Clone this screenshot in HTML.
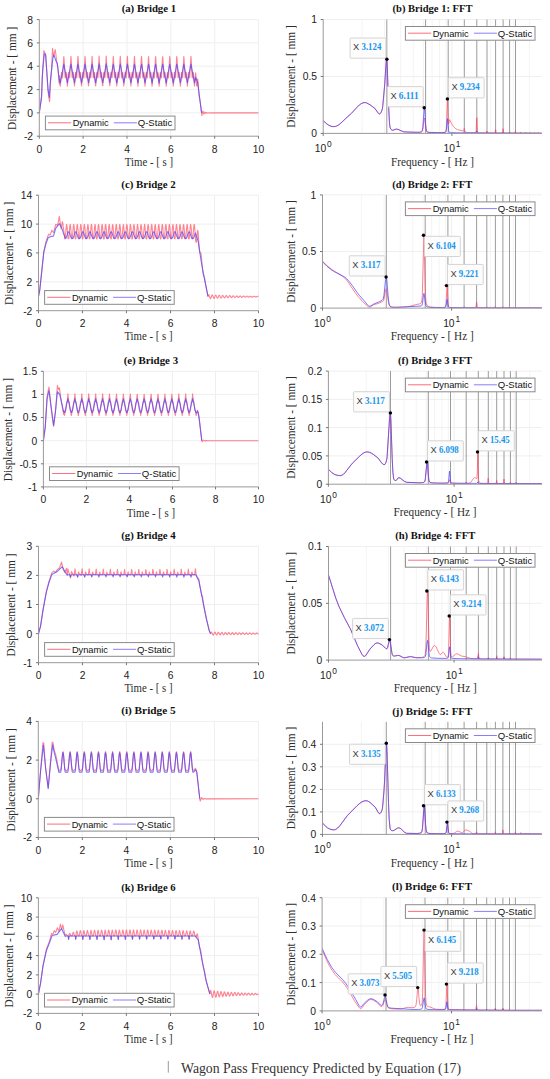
<!DOCTYPE html>
<html><head><meta charset="utf-8"><style>
html,body{margin:0;padding:0;background:#fff;width:550px;height:1079px;overflow:hidden;font-family:"Liberation Sans",sans-serif;}
svg{display:block;}
</style></head><body>
<svg width="550" height="1079" viewBox="0 0 550 1079"><defs><clipPath id="cl0"><rect x="39.3" y="18.6" width="219.7" height="118.6"/></clipPath><clipPath id="cr0"><rect x="323.2" y="18.5" width="218.7" height="115.4"/></clipPath><clipPath id="cl1"><rect x="38.5" y="194.2" width="220.5" height="117.5"/></clipPath><clipPath id="cr1"><rect x="322.5" y="193.9" width="219.39999999999998" height="114.70000000000002"/></clipPath><clipPath id="cl2"><rect x="43.4" y="370.3" width="215.6" height="117.59999999999997"/></clipPath><clipPath id="cr2"><rect x="328.4" y="370.1" width="213.5" height="114.59999999999997"/></clipPath><clipPath id="cl3"><rect x="38.5" y="545.3" width="220.5" height="118.40000000000009"/></clipPath><clipPath id="cr3"><rect x="328.5" y="545.5" width="213.39999999999998" height="115.10000000000002"/></clipPath><clipPath id="cl4"><rect x="38.3" y="720.4" width="220.7" height="118.10000000000002"/></clipPath><clipPath id="cr4"><rect x="322.5" y="720.8" width="219.39999999999998" height="114.10000000000002"/></clipPath><clipPath id="cl5"><rect x="38.4" y="896.8" width="220.6" height="117.60000000000002"/></clipPath><clipPath id="cr5"><rect x="322.1" y="896.7" width="219.79999999999995" height="114.69999999999993"/></clipPath></defs>
<path d="M83.1 19.6V136.2M127.0 19.6V136.2M170.8 19.6V136.2M214.7 19.6V136.2M258.5 19.6V136.2M39.3 112.9H258.5M39.3 89.6H258.5M39.3 66.2H258.5M39.3 42.9H258.5M39.3 19.6H258.5" stroke="#efefef" stroke-width="1" fill="none"/>
<path d="M39.3 112.9L40.9 101.9L41.6 95.4L42.3 76.3L43.9 50.6L45.5 54.3L45.7 55.5L48 91.1L49.5 101.6L49.7 101L50.3 85.4L51.6 68.4L52.5 48.3L53.6 56.7L55.2 49.6L55.4 50.3L56.9 63L57.9 68.3L59.4 84.4L59.5 75.5L60.3 86.2L61.5 72.4L61.8 73.5L62.3 77.6L62.5 77.9L62.6 77.2L63.8 56.5L64.1 59.3L65.1 77.6L65.3 77.9L65.4 77.3L65.9 73.1L66.1 72.4L66.3 72.6L67.4 86.1L68.2 74.8L68.6 72.4L68.9 73.6L69.4 77.6L69.5 77.9L69.7 77.1L70.9 56.4L71.2 59.4L72.2 77.6L72.3 77.9L72.5 77.2L73 73.1L73.2 72.4L73.3 72.6L74.5 86L75.3 74.7L75.6 72.4L76 73.7L76.5 77.7L76.6 77.9L76.8 77.1L77.9 56.3L78.3 59.6L79.1 76.3L79.4 77.9L80.1 73L80.2 72.4L80.4 72.7L81.2 83.6L81.6 86L82.5 73L82.7 72.4L82.9 72.7L83.5 77.7L83.7 77.9L83.9 77L85 56.3L85.3 59.8L86.2 76.4L86.3 77.7L86.5 77.9L87.1 72.9L87.3 72.4L87.5 72.7L88.3 83.8L88.6 85.9L89.6 73L89.8 72.4L89.9 72.7L90.6 77.7L90.8 77.9L90.9 76.9L92.1 56.2L93.2 76.5L93.4 77.8L93.6 77.8L94.2 72.9L94.4 72.4L94.5 72.8L95.4 83.9L95.5 85.6L95.7 85.8L96.7 72.9L96.8 72.4L97 72.8L97.7 77.8L97.8 77.8L98 76.8L99.1 56.1L100.3 76.7L100.5 77.8L100.6 77.8L101.3 72.8L101.4 72.4L101.6 72.8L102.4 84L102.6 85.7L102.8 85.8L103.7 72.8L103.9 72.4L104.1 72.8L104.7 77.8L104.9 77.8L105.1 76.7L106.2 56.1L107.4 76.7L107.5 77.8L107.7 77.8L108.3 72.8L108.5 72.4L108.7 72.9L109.7 85.8L109.8 85.7L110 83.9L110.8 72.8L111 72.4L111.1 72.9L111.8 77.8L112 77.8L112.1 76.6L113.3 56.2L114.4 76.8L114.6 77.8L114.8 77.8L115.4 72.7L115.6 72.4L115.7 72.9L116.7 85.9L117.1 83.8L117.9 72.7L118 72.4L118.2 72.9L118.9 77.9L119 77.7L119.2 76.5L120 59.8L120.3 56.2L121.5 76.9L121.7 77.9L121.8 77.7L122.5 72.7L122.7 72.4L122.8 73L123.8 85.9L124.1 83.7L125 72.7L125.1 72.4L125.3 73L125.9 77.9L126.1 77.7L126.3 76.4L127.1 59.7L127.4 56.3L128.6 77L128.7 77.9L128.9 77.7L129.4 73.7L129.7 72.4L130 74.6L130.9 86L132 72.6L132.2 72.4L132.4 73L132.8 77.2L133 77.9L133.2 77.6L134.2 59.5L134.5 56.4L135.6 77.1L135.8 77.9L136 77.6L136.5 73.6L136.8 72.4L137.1 74.8L137.9 86.1L139.1 72.6L139.3 72.4L139.4 73.1L139.9 77.2L140.1 77.9L140.2 77.6L141.2 59.3L141.6 56.4L142.7 77.2L142.9 77.9L143 77.6L143.5 73.5L143.9 72.4L144.2 74.9L145 86.1L146.2 72.6L146.3 72.4L146.5 73.2L147 77.3L147.1 77.9L147.3 77.5L148.3 59.2L148.6 56.5L149.8 77.3L149.9 77.9L150.1 77.5L150.6 73.5L150.8 72.5L150.9 72.4L152.1 86.2L153.2 72.5L153.4 72.5L153.6 73.2L154.1 77.4L154.2 77.9L154.4 77.5L155.4 59L155.5 56.8L155.7 56.6L156.8 77.3L157 77.9L157.2 77.5L157.7 73.4L157.8 72.5L158 72.5L159.1 86.3L160.3 72.5L160.5 72.5L160.6 73.3L161.1 77.4L161.3 77.9L161.4 77.4L162.4 58.8L162.6 56.7L162.8 56.7L163.9 77.4L164.1 77.9L164.2 77.4L164.7 73.3L164.9 72.5L165.1 72.5L166.2 86.3L167.4 72.5L167.5 72.5L167.7 73.4L168.2 77.5L168.4 77.9L168.5 77.4L169.7 56.6L169.8 56.8L170 58.9L171 77.5L171.1 77.9L171.3 77.4L171.8 73.3L172 72.5L172.1 72.5L173.3 86.2L174.4 72.4L174.6 72.5L174.8 73.4L175.3 77.5L175.4 77.9L175.6 77.3L176.7 56.6L176.9 56.9L177.1 59.1L178.1 77.5L178.2 77.9L178.4 77.3L178.9 73.2L179 72.4L179.2 72.5L180.4 86.2L181.5 72.4L181.8 73.5L182.3 77.6L182.5 77.9L182.7 77.2L183.8 56.5L184.1 59.2L185.1 77.6L185.3 77.9L185.5 77.3L185.9 73.1L186.1 72.4L186.3 72.6L187.4 86.1L188.2 74.8L188.6 72.4L188.9 73.6L189.4 77.6L189.6 77.9L189.7 77.1L190.9 56.4L191.2 59.4L192.2 77.6L192.4 77.9L192.5 77.2L193 73.1L193.2 72.4L193.3 72.6L194.5 86L195.5 73.1L195.6 72.8L195.8 74.4L196.6 85.6L196.8 85.9L197 85.2L197.5 80.1L197.6 79L197.8 79.2L199.1 95.7L200.1 101.3L201.9 115.7L202.5 112L202.9 111L203.7 114.1L204.7 112.1L205.5 113.4L206.5 112.5L207.5 113.1L208.3 112.7L209.3 113L210.1 112.8L258.4 112.9" fill="none" stroke="#ff4258" stroke-width="1.1" stroke-opacity="0.65" stroke-linejoin="round" clip-path="url(#cl0)"/>
<path d="M39.3 112.9L41.6 96.6L42.3 77.5L43.1 66.1L44.4 53.8L45.5 54.5L45.7 55.4L48 88.8L49.3 97.4L50.3 82.1L52.9 57.9L53.9 54.7L55.7 60.4L57.4 63.7L59.4 82.1L59.5 78.8L60.3 83L63.8 64.2L67.4 83L70.9 64.2L74.5 82.9L77.9 64.1L81.6 82.9L85 64L88.6 82.8L92.1 64L95.5 82.6L95.7 82.8L99.1 63.9L102.6 82.7L102.8 82.7L106.2 63.9L109.7 82.7L109.8 82.7L113.3 64L116.7 82.8L116.9 82.6L120.3 64L123.8 82.8L127.4 64.1L130.9 82.9L134.5 64.1L137.9 83L141.6 64.2L145 83L148.6 64.2L152.1 83.1L155.5 64.4L155.7 64.3L159.1 83.1L162.6 64.4L162.8 64.3L166.2 83.1L169.7 64.3L169.8 64.4L173.3 83.1L176.7 64.3L176.9 64.4L180.4 83L183.8 64.2L187.4 83L190.9 64.2L194.5 82.9L195.6 77.1L197.6 82.4L201.6 112.9" fill="none" stroke="#4a44ff" stroke-width="1.1" stroke-opacity="0.72" stroke-linejoin="round" clip-path="url(#cl0)"/>
<path d="M39.3 19.6V136.2H258.5" stroke="#9a9a9a" stroke-width="1" fill="none"/>
<path d="M39.3 136.2h-2.5M39.3 112.9h-2.5M39.3 89.6h-2.5M39.3 66.2h-2.5M39.3 42.9h-2.5M39.3 19.6h-2.5M39.3 136.2v2.5M83.1 136.2v2.5M127.0 136.2v2.5M170.8 136.2v2.5M214.7 136.2v2.5M258.5 136.2v2.5" stroke="#777" stroke-width="1" fill="none"/>
<text x="33.1" y="140.1" text-anchor="end" font-family='Liberation Sans' font-size="10.3" fill="#222">-2</text>
<text x="33.1" y="116.8" text-anchor="end" font-family='Liberation Sans' font-size="10.3" fill="#222">0</text>
<text x="33.1" y="93.5" text-anchor="end" font-family='Liberation Sans' font-size="10.3" fill="#222">2</text>
<text x="33.1" y="70.1" text-anchor="end" font-family='Liberation Sans' font-size="10.3" fill="#222">4</text>
<text x="33.1" y="46.8" text-anchor="end" font-family='Liberation Sans' font-size="10.3" fill="#222">6</text>
<text x="33.1" y="23.5" text-anchor="end" font-family='Liberation Sans' font-size="10.3" fill="#222">8</text>
<text x="39.3" y="152.7" text-anchor="middle" font-family='Liberation Sans' font-size="10.3" fill="#222">0</text>
<text x="83.1" y="152.7" text-anchor="middle" font-family='Liberation Sans' font-size="10.3" fill="#222">2</text>
<text x="127.0" y="152.7" text-anchor="middle" font-family='Liberation Sans' font-size="10.3" fill="#222">4</text>
<text x="170.8" y="152.7" text-anchor="middle" font-family='Liberation Sans' font-size="10.3" fill="#222">6</text>
<text x="214.7" y="152.7" text-anchor="middle" font-family='Liberation Sans' font-size="10.3" fill="#222">8</text>
<text x="258.5" y="152.7" text-anchor="middle" font-family='Liberation Sans' font-size="10.3" fill="#222">10</text>
<text x="148.9" y="165.8" text-anchor="middle" font-family='Liberation Serif' font-size="11.8" fill="#2e2e2e" textLength="48.2" lengthAdjust="spacingAndGlyphs">Time - [ s ]</text>
<text transform="translate(15.7 78.3) rotate(-90)" text-anchor="middle" font-family='Liberation Serif' font-size="11.8" fill="#2e2e2e" textLength="103.2" lengthAdjust="spacingAndGlyphs">Displacement - [ mm ]</text>
<text x="148.9" y="12.3" text-anchor="middle" font-family='Liberation Serif' font-size="11" font-weight="bold" fill="#111" textLength="54.5" lengthAdjust="spacingAndGlyphs">(a) Bridge 1</text>
<rect x="45.4" y="116.1" width="129.6" height="13.7" fill="#fff" stroke="#8a8a8a" stroke-width="1"/>
<path d="M48.0 122.8h23.2" stroke="#ff5468" stroke-opacity="0.85" stroke-width="1"/>
<path d="M113.9 122.8h23" stroke="#6b5cff" stroke-opacity="0.8" stroke-width="1"/>
<text x="72.7" y="126.2" font-family="'Liberation Sans'" font-size="9.6" fill="#111" textLength="36" lengthAdjust="spacingAndGlyphs">Dynamic</text>
<text x="137.7" y="126.2" font-family="'Liberation Sans'" font-size="9.6" fill="#111" textLength="34.6" lengthAdjust="spacingAndGlyphs">Q-Static</text>
<path d="M362.0 19.5V133.4M384.6 19.5V133.4M400.7 19.5V133.4M413.2 19.5V133.4M423.4 19.5V133.4M432.0 19.5V133.4M439.5 19.5V133.4M446.0 19.5V133.4M490.7 19.5V133.4M513.3 19.5V133.4M529.4 19.5V133.4" stroke="#f4f4f4" stroke-width="1" fill="none"/>
<path d="M451.9 19.5V133.4M323.2 76.5H541.9M323.2 19.5H541.9" stroke="#efefef" stroke-width="1" fill="none"/>
<path d="M386.8 19.5V133.4M425.6 19.5V133.4M448.2 19.5V133.4M464.3 19.5V133.4M476.8 19.5V133.4M487.0 19.5V133.4M495.6 19.5V133.4M503.1 19.5V133.4M509.6 19.5V133.4M515.5 19.5V133.4" stroke="#9c9c9c" stroke-width="1" fill="none"/>
<path d="M323.2 120.6L326.8 123.9L328.5 125.1L330.2 125.9L332.1 126.5L333.9 126.6L335.2 126.5L336.7 126L339.1 124.6L341.9 122.2L347.3 117L351.4 113.4L357.1 107.2L359.4 104.9L361.8 103.3L364 102.6L365.3 102.6L366.8 103L370.1 104.8L374.8 108.4L378.6 113.6L379.6 114L380.2 113.7L381.1 112.5L382 110.1L382.4 108.7L382.8 105.8L384.7 85L386.1 64L386.4 61.3L386.7 60.6L386.9 62.1L387.3 68.9L388.7 108.3L389.4 121.7L389.8 125.9L390.2 127.9L390.8 129.1L391.7 129.9L392.5 130.3L393.2 130.2L395.4 129.3L396.4 129.1L398.3 129.5L402.5 131.4L404.4 131.9L415.5 132.3L419.5 132.3L421.4 132.1L422.2 131.4L422.8 129.6L424 119.5L424.4 118L424.8 119.8L425.9 129.3L426.3 131L427 132L428 132.3L429.7 132.5L437.7 132.6L443 132.5L445.2 132.1L445.7 131.6L446 130.8L446.4 126.8L447.3 101.7L447.5 99.1L448.2 118.8L448.6 124L449.6 119.6L451.4 123.4L453.3 126.3L455.3 128.4L457.5 129.6L463.3 131.1L463.7 130.5L464.1 128.8L464.3 128.3L465 131.3L465.3 131.8L465.9 132.2L467.6 132.6L470.2 132.8L474.1 132.8L475.6 132.6L475.8 132.3L476.1 131L476.8 117.7L477.5 131.3L477.8 132.4L478.4 132.8L480.9 133L486.1 133L486.5 132.6L486.9 131L487.5 132.6L487.7 132.9L494.7 133L495.1 132.6L495.5 129.8L495.7 129.8L496.1 132.7L496.4 133L502.2 133L502.5 132.9L502.6 132.5L503.1 128.6L503.5 132.5L503.6 132.9L504 133L509.1 133.1L509.3 132.8L509.6 132L510.2 133.1L515 133.1L515.2 132.7L515.5 130.9L515.9 132.9L516.3 133.1L520.4 133.1L520.8 132.1L521.1 132.9L521.5 133.1L525.4 133.1L525.8 132.3L526 133.1L526.3 133.1L529.9 133.1L530.1 132.4L530.7 133.1L534 133.2L534.4 132.6L534.7 133.1L537.8 133.2L538.2 132.4L538.6 133.2L541.9 133.2" fill="none" stroke="#ff4258" stroke-width="1.0" stroke-opacity="0.65" stroke-linejoin="round" clip-path="url(#cr0)"/>
<path d="M323.2 120.6L326.8 123.9L328.5 125.1L330.2 125.9L332.1 126.5L333.9 126.6L335.2 126.5L336.7 126L339.1 124.6L341.9 122.2L347.3 117L351.4 113.4L357.1 107.2L359.4 104.9L361.8 103.3L364 102.6L365.3 102.6L366.8 103L370.1 104.8L374.8 108.4L378.6 113.5L379.6 114L380.2 113.7L381.1 112.4L382 110L382.4 108.6L382.8 105.7L384.7 84.3L386.1 62L386.4 59.1L386.7 58.2L386.9 59.7L387.3 66.7L388.7 107.4L389.4 121.3L389.8 125.6L390.2 127.7L390.9 129.2L391.9 130L392.5 130.2L393.2 130.2L395.7 129.2L396.8 129.1L398.6 129.6L403.3 131.7L406.5 132L417.6 132.3L420.2 132.1L421.5 131.7L422.2 130.5L422.8 127.5L424 110.3L424.4 107.8L424.8 110.8L425.6 123.8L426.2 129.2L426.9 131.5L427.4 131.9L428.2 132.2L431.8 132.5L439.9 132.7L444 132.6L445.6 132.3L446 131.7L446.4 129.7L447.3 119.6L447.5 118.7L448.6 130.6L449.2 132.2L450.3 132.6L463 132.9L463.5 132.7L464.3 131.7L465 132.7L465.6 132.9L475.6 132.9L476.1 132.7L476.8 131.1L477.5 132.8L478.4 133L486.1 133L486.9 132.7L487.7 133L494.7 133.1L495.1 133L495.5 132.5L496.4 133.1L502.2 133.1L502.6 133L503.1 132.5L503.5 133L504.2 133.1L541.9 133.2" fill="none" stroke="#4a44ff" stroke-width="1.0" stroke-opacity="0.72" stroke-linejoin="round" clip-path="url(#cr0)"/>
<path d="M323.2 19.5V133.4H541.9" stroke="#9a9a9a" stroke-width="1" fill="none"/>
<path d="M323.2 133.4h-2.5M323.2 76.5h-2.5M323.2 19.5h-2.5M323.2 133.4v2.5M451.9 133.4v2.5" stroke="#777" stroke-width="1" fill="none"/>
<text x="317.0" y="137.3" text-anchor="end" font-family='Liberation Sans' font-size="10.3" fill="#222">0</text>
<text x="317.0" y="80.4" text-anchor="end" font-family='Liberation Sans' font-size="10.3" fill="#222">0.5</text>
<text x="317.0" y="23.4" text-anchor="end" font-family='Liberation Sans' font-size="10.3" fill="#222">1</text>
<text x="326.2" y="152.3" text-anchor="end" font-family='Liberation Sans' font-size="10.3" fill="#222">10</text>
<text x="327.0" y="147.1" font-family='Liberation Sans' font-size="8.4" fill="#222">0</text>
<text x="454.9" y="152.3" text-anchor="end" font-family='Liberation Sans' font-size="10.3" fill="#222">10</text>
<text x="455.7" y="147.1" font-family='Liberation Sans' font-size="8.4" fill="#222">1</text>
<text x="432.5" y="165.5" text-anchor="middle" font-family='Liberation Serif' font-size="11.8" fill="#2e2e2e" textLength="83" lengthAdjust="spacingAndGlyphs">Frequency - [ Hz ]</text>
<text transform="translate(295.2 76.5) rotate(-90)" text-anchor="middle" font-family='Liberation Serif' font-size="11.8" fill="#2e2e2e" textLength="102.5" lengthAdjust="spacingAndGlyphs">Displacement - [ mm ]</text>
<text x="432.5" y="12.2" text-anchor="middle" font-family='Liberation Serif' font-size="11" font-weight="bold" fill="#111" textLength="80" lengthAdjust="spacingAndGlyphs">(b) Bridge 1: FFT</text>
<rect x="405.4" y="26.5" width="129.6" height="13.7" fill="#fff" stroke="#8a8a8a" stroke-width="1"/>
<path d="M408.0 33.2h23.2" stroke="#ff5468" stroke-opacity="0.85" stroke-width="1"/>
<path d="M473.9 33.2h23" stroke="#6b5cff" stroke-opacity="0.8" stroke-width="1"/>
<text x="432.7" y="36.6" font-family="'Liberation Sans'" font-size="9.6" fill="#111" textLength="36" lengthAdjust="spacingAndGlyphs">Dynamic</text>
<text x="497.7" y="36.6" font-family="'Liberation Sans'" font-size="9.6" fill="#111" textLength="34.6" lengthAdjust="spacingAndGlyphs">Q-Static</text>
<rect x="350.1" y="38.0" width="35.8" height="20.2" rx="0.8" fill="#fcfcfc" stroke="#d4d4d4" stroke-width="1"/>
<text x="353.1" y="50.3" font-family="'Liberation Sans'" font-size="9.3" fill="#3a3a3a">X</text>
<text x="361.5" y="50.3" font-family="'Liberation Serif'" font-size="9.7" font-weight="bold" fill="#1696ee" textLength="19.8" lengthAdjust="spacingAndGlyphs">3.124</text>
<circle cx="386.9" cy="59.2" r="1.7" fill="#000"/>
<rect x="387.4" y="86.6" width="35.8" height="20.2" rx="0.8" fill="#fcfcfc" stroke="#d4d4d4" stroke-width="1"/>
<text x="390.4" y="98.9" font-family="'Liberation Sans'" font-size="9.3" fill="#3a3a3a">X</text>
<text x="398.8" y="98.9" font-family="'Liberation Serif'" font-size="9.7" font-weight="bold" fill="#1696ee" textLength="19.8" lengthAdjust="spacingAndGlyphs">6.111</text>
<circle cx="424.2" cy="107.8" r="1.7" fill="#000"/>
<rect x="448.4" y="77.7" width="35.8" height="20.2" rx="0.8" fill="#fcfcfc" stroke="#d4d4d4" stroke-width="1"/>
<text x="451.4" y="90.0" font-family="'Liberation Sans'" font-size="9.3" fill="#3a3a3a">X</text>
<text x="459.8" y="90.0" font-family="'Liberation Serif'" font-size="9.7" font-weight="bold" fill="#1696ee" textLength="19.8" lengthAdjust="spacingAndGlyphs">9.234</text>
<circle cx="447.4" cy="98.9" r="1.7" fill="#000"/>
<path d="M82.5 195.2V310.7M126.5 195.2V310.7M170.5 195.2V310.7M214.5 195.2V310.7M258.5 195.2V310.7M38.5 281.8H258.5M38.5 252.9H258.5M38.5 224.1H258.5M38.5 195.2H258.5" stroke="#efefef" stroke-width="1" fill="none"/>
<path d="M38.5 296.3L39.8 289.8L43.8 251.5L45.8 242.1L48.6 234.3L48.7 234.2L50 234.9L50.2 234.8L51.9 230.3L52 230.3L53.7 232.7L55.7 224.3L57.6 225.5L59.3 216.4L61.1 228.8L62.4 221.7L62.6 222.2L64.9 238.9L65.1 238.9L65.2 238.5L65.4 237.4L66.2 227L66.6 224.6L66.7 224.5L67 226.4L67.9 236.9L68.2 238.8L68.7 238.8L68.9 238L69.8 226.1L70.2 224.4L70.5 225.7L71.7 238.6L71.8 238.9L72.2 238.9L72.3 238.5L73.3 226.9L73.6 224.6L73.8 224.5L74.1 226.5L75.1 238.3L75.3 238.8L75.8 238.7L76.1 236.5L76.9 226L77.3 224.4L77.6 225.8L78.8 238.7L78.9 238.9L79.3 238.9L79.4 238.4L80.4 226.8L80.7 224.6L80.9 224.5L81.2 226.6L82.1 237.1L82.4 238.9L82.7 238.9L83 237.9L84 225.9L84.4 224.4L84.7 225.9L85.7 237.8L86 238.9L86.4 238.9L86.7 237.1L87.5 226.7L87.8 224.5L88 224.5L88.3 226.7L89.3 238.4L89.5 238.9L90 238.7L91.1 225.9L91.5 224.4L91.8 226L92.8 237.9L93.1 238.9L93.4 238.9L93.8 237.1L94.6 226.6L94.9 224.5L95.1 224.6L95.4 226.8L96.4 238.4L96.6 238.9L96.9 238.9L97.1 238.7L98.2 225.8L98.6 224.4L98.9 226L99.9 238L100.2 238.9L100.5 238.8L100.9 237L101.7 226.5L102 224.5L102.2 224.6L102.5 226.9L103.5 238.5L103.7 238.9L104 238.9L104.2 238.6L105.3 225.7L105.7 224.4L106 226.1L106.8 236.6L107.1 238.8L107.6 238.8L107.8 238.2L108.8 226.4L109.1 224.5L109.3 224.6L109.6 227L110.4 237.4L110.8 238.9L111.1 238.9L111.3 238.6L112.4 225.6L112.8 224.5L113.1 226.2L113.9 236.7L114.2 238.8L114.7 238.8L114.9 238.1L115.9 226.3L116.2 224.5L116.4 224.6L116.7 227.1L117.7 238.6L117.9 238.9L118.2 238.9L118.5 237.5L119.4 227.1L119.7 224.6L119.8 224.5L120.2 226.3L121.2 238.1L121.3 238.8L121.8 238.8L122.2 236.7L123 226.2L123.3 224.5L123.6 225.6L124.8 238.6L125 238.9L125.3 238.9L125.5 238.5L126.4 227L126.8 224.6L126.9 224.5L127.3 226.4L128.3 238.2L128.4 238.8L128.8 238.9L129.1 238L129.2 236.6L130.1 226.1L130.4 224.4L130.7 225.7L131.9 238.6L132.1 238.9L132.4 238.9L132.5 238.5L133.5 226.9L133.9 224.6L134 224.5L134.4 226.5L135.2 237L135.5 238.8L135.8 238.9L136.2 237.9L137.2 226L137.5 224.4L137.8 225.8L139 238.7L139.2 238.9L139.5 238.9L139.6 238.4L140.6 226.8L141 224.6L141.1 224.5L141.5 226.6L142.3 237.1L142.6 238.9L142.9 238.9L143.3 237.9L144.3 225.9L144.6 224.4L144.9 225.9L145.9 237.8L146.2 238.9L146.6 238.9L146.9 237.2L147.7 226.7L148.1 224.5L148.2 224.5L148.6 226.7L149.5 238.4L149.7 238.9L150.2 238.7L151.4 225.9L151.7 224.4L152 226L153 237.9L153.3 238.9L153.7 238.9L154 237.1L154.8 226.6L155.2 224.5L155.3 224.6L155.6 226.8L156.6 238.4L156.8 238.9L157.1 238.9L157.3 238.7L158.5 225.8L158.8 224.4L159.1 226L160.1 238L160.4 238.9L160.8 238.8L161.1 237L161.9 226.5L162.2 224.5L162.4 224.6L162.7 226.9L163.7 238.5L163.9 238.9L164.2 238.9L164.4 238.6L165.5 225.7L165.9 224.4L166.2 226.1L167 236.6L167.4 238.8L167.9 238.8L168 238.2L169 226.4L169.3 224.5L169.5 224.6L169.8 227L170.7 237.4L171 238.9L171.3 238.9L171.5 238.6L172.6 225.6L173 224.5L173.3 226.2L174.1 236.7L174.5 238.8L175 238.8L175.1 238.1L176.1 226.3L176.4 224.5L176.6 224.6L176.9 227.1L177.9 238.6L178.1 238.9L178.4 238.9L178.8 237.5L179.6 227.1L179.9 224.6L180.1 224.5L180.4 226.3L181.4 238.1L181.6 238.8L182 238.8L182.4 236.7L183.2 226.2L183.5 224.5L183.9 225.6L185 238.6L185.2 238.9L185.5 238.9L185.7 238.5L186.7 227L187 224.6L187.2 224.5L187.5 226.4L188.5 238.2L188.6 238.8L189 238.9L189.3 238L189.5 236.6L190.3 226.1L190.6 224.4L191.1 227.3L192 237.7L192.1 238.6L192.3 238.9L192.6 238.9L192.9 237.3L193.9 225.4L194.1 224.6L194.3 224.5L194.6 226.5L195.6 239.4L195.7 240.8L196.2 242.5L196.6 240.9L197.4 231.6L197.7 230.3L197.9 230.7L198.2 233.4L199.2 248.4L199.9 252.7L200 253L200.7 252.8L201.2 254.9L202.7 271.5L203.3 274.9L204.2 276.9L204.7 278.8L206 286.6L208 296.5L208.4 294.9L208.8 294.6L208.9 294.7L210.1 298.2L210.4 298.7L210.9 298.2L211.8 295.5L212.2 294.8L212.7 295.5L213.6 297.9L214.1 298.5L214.4 298.1L215.4 295.4L215.7 295L216.2 295.6L217.2 298.1L217.5 298.3L217.9 298L218.7 295.9L219.2 295.2L219.7 295.6L220.5 297.6L221 298.1L221.3 297.9L222.3 295.7L222.6 295.4L223.1 295.7L224 297.4L224.5 298L225 297.5L225.8 295.9L226.3 295.5L226.8 296L227.6 297.6L227.9 297.8L228.2 297.7L229.2 296L229.7 295.6L230.1 295.8L231.1 297.4L231.4 297.7L231.9 297.4L232.7 296.1L233.2 295.7L233.7 296.1L234.5 297.3L235 297.6L236.7 295.8L237.2 296.1L238.2 297.4L238.5 297.5L240.1 295.9L240.6 296.2L241.4 297.2L241.9 297.4L243.6 296L244.1 296.2L244.9 297.1L245.4 297.3L245.9 297.1L246.7 296.3L247.2 296.1L248.9 297.3L250.7 296.2L252.3 297.2L254.2 296.2L255.8 297.1L256.3 297L257.5 296.3L258 296.3L258.4 296.6" fill="none" stroke="#ff4258" stroke-width="1.1" stroke-opacity="0.65" stroke-linejoin="round" clip-path="url(#cl1)"/>
<path d="M38.5 296.3L39.8 289.8L43.8 252.3L45.8 244.3L48.1 237.7L50.9 236.4L53.4 236.3L53.5 236.1L55.7 228.4L59.3 223.6L61.8 228.3L65.2 238.4L65.9 238.3L66.2 237.8L67.9 232.7L68.4 231.8L68.7 231.7L69 231.9L69.5 232.9L71 237.6L71.7 238.4L72.8 238.4L73.2 238.1L75 232.7L75.5 231.8L75.8 231.7L76.1 231.9L76.6 232.9L78.1 237.6L78.4 238.2L78.8 238.4L79.9 238.4L80.2 238L82.1 232.7L82.6 231.8L82.9 231.7L83.2 231.9L83.7 233L85.2 237.6L85.5 238.2L85.9 238.4L87 238.3L87.3 238L89.2 232.7L89.6 231.8L90 231.7L90.6 232.6L92.3 237.6L92.6 238.2L93 238.4L94.1 238.3L94.4 238L96.2 232.6L96.9 231.7L97.2 231.8L97.6 232.2L99.2 237.3L99.7 238.2L100 238.4L101.2 238.3L101.5 238L103.3 232.6L104 231.7L104.3 231.8L104.7 232.2L106.3 237.3L106.8 238.2L107.1 238.4L108.3 238.3L108.6 238L110.4 232.6L111.1 231.7L111.4 231.8L111.8 232.3L113.4 237.3L113.9 238.2L114.2 238.4L115.4 238.3L115.7 238L117.5 232.6L118.2 231.7L118.5 231.8L118.9 232.3L120.5 237.4L121 238.2L121.3 238.4L122.5 238.3L122.8 238L124.6 232.5L125.3 231.7L125.6 231.8L126.1 232.7L127.8 237.7L128.1 238.2L128.4 238.4L129.6 238.3L129.9 237.9L131.7 232.5L132.4 231.7L132.7 231.8L133.2 232.7L134.9 237.8L135.2 238.3L135.5 238.4L136.5 238.4L137 237.9L138.8 232.5L139.5 231.7L139.8 231.8L140.3 232.7L142 237.8L142.3 238.3L142.6 238.4L143.6 238.4L144.1 237.9L145.8 232.9L146.2 231.9L146.6 231.7L146.9 231.8L147.4 232.8L149 237.8L149.4 238.3L149.7 238.4L150.7 238.4L151.2 237.9L152.8 232.9L153.3 231.9L153.7 231.7L154 231.8L154.5 232.8L156.1 237.8L156.5 238.3L156.8 238.4L157.8 238.4L158.3 237.9L159.9 232.8L160.4 231.9L160.8 231.7L161.1 231.8L161.4 232.4L162.9 237.1L163.4 238.1L163.7 238.4L164.9 238.4L165.4 237.9L167 232.8L167.5 231.8L167.9 231.7L168.2 231.9L168.5 232.4L170 237.1L170.5 238.1L170.8 238.4L172 238.4L172.3 238.1L172.8 237.1L174.1 232.8L174.6 231.8L175 231.7L175.6 232.4L177.1 237.1L177.6 238.1L177.9 238.4L179.1 238.4L179.6 237.8L181.2 232.8L181.9 231.7L182.2 231.7L182.7 232.5L184.2 237.1L184.7 238.1L185 238.4L186.2 238.4L186.5 238.1L187 237L188.3 232.7L189 231.7L189.3 231.7L189.8 232.5L191.3 237.2L191.8 238.2L192.1 238.4L193.3 238.4L193.6 238.1L195.4 233L198.2 241.4L201.2 261.5L204.7 280.1L208 296.3" fill="none" stroke="#4a44ff" stroke-width="1.1" stroke-opacity="0.72" stroke-linejoin="round" clip-path="url(#cl1)"/>
<path d="M38.5 195.2V310.7H258.5" stroke="#9a9a9a" stroke-width="1" fill="none"/>
<path d="M38.5 310.7h-2.5M38.5 281.8h-2.5M38.5 252.9h-2.5M38.5 224.1h-2.5M38.5 195.2h-2.5M38.5 310.7v2.5M82.5 310.7v2.5M126.5 310.7v2.5M170.5 310.7v2.5M214.5 310.7v2.5M258.5 310.7v2.5" stroke="#777" stroke-width="1" fill="none"/>
<text x="32.3" y="314.6" text-anchor="end" font-family='Liberation Sans' font-size="10.3" fill="#222">-2</text>
<text x="32.3" y="285.7" text-anchor="end" font-family='Liberation Sans' font-size="10.3" fill="#222">2</text>
<text x="32.3" y="256.8" text-anchor="end" font-family='Liberation Sans' font-size="10.3" fill="#222">6</text>
<text x="32.3" y="228.0" text-anchor="end" font-family='Liberation Sans' font-size="10.3" fill="#222">10</text>
<text x="32.3" y="199.1" text-anchor="end" font-family='Liberation Sans' font-size="10.3" fill="#222">14</text>
<text x="38.5" y="327.2" text-anchor="middle" font-family='Liberation Sans' font-size="10.3" fill="#222">0</text>
<text x="82.5" y="327.2" text-anchor="middle" font-family='Liberation Sans' font-size="10.3" fill="#222">2</text>
<text x="126.5" y="327.2" text-anchor="middle" font-family='Liberation Sans' font-size="10.3" fill="#222">4</text>
<text x="170.5" y="327.2" text-anchor="middle" font-family='Liberation Sans' font-size="10.3" fill="#222">6</text>
<text x="214.5" y="327.2" text-anchor="middle" font-family='Liberation Sans' font-size="10.3" fill="#222">8</text>
<text x="258.5" y="327.2" text-anchor="middle" font-family='Liberation Sans' font-size="10.3" fill="#222">10</text>
<text x="148.5" y="340.3" text-anchor="middle" font-family='Liberation Serif' font-size="11.8" fill="#2e2e2e" textLength="48.2" lengthAdjust="spacingAndGlyphs">Time - [ s ]</text>
<text transform="translate(13.0 253.4) rotate(-90)" text-anchor="middle" font-family='Liberation Serif' font-size="11.8" fill="#2e2e2e" textLength="103.2" lengthAdjust="spacingAndGlyphs">Displacement - [ mm ]</text>
<text x="148.5" y="187.9" text-anchor="middle" font-family='Liberation Serif' font-size="11" font-weight="bold" fill="#111" textLength="54.5" lengthAdjust="spacingAndGlyphs">(c) Bridge 2</text>
<rect x="44.6" y="290.6" width="129.6" height="13.7" fill="#fff" stroke="#8a8a8a" stroke-width="1"/>
<path d="M47.2 297.3h23.2" stroke="#ff5468" stroke-opacity="0.85" stroke-width="1"/>
<path d="M113.1 297.3h23" stroke="#6b5cff" stroke-opacity="0.8" stroke-width="1"/>
<text x="71.9" y="300.7" font-family="'Liberation Sans'" font-size="9.6" fill="#111" textLength="36" lengthAdjust="spacingAndGlyphs">Dynamic</text>
<text x="136.9" y="300.7" font-family="'Liberation Sans'" font-size="9.6" fill="#111" textLength="34.6" lengthAdjust="spacingAndGlyphs">Q-Static</text>
<path d="M361.4 194.9V308.1M384.1 194.9V308.1M400.2 194.9V308.1M412.8 194.9V308.1M423.0 194.9V308.1M431.6 194.9V308.1M439.1 194.9V308.1M445.7 194.9V308.1M490.5 194.9V308.1M513.3 194.9V308.1M529.4 194.9V308.1" stroke="#f4f4f4" stroke-width="1" fill="none"/>
<path d="M451.6 194.9V308.1M322.5 251.5H541.9M322.5 194.9H541.9" stroke="#efefef" stroke-width="1" fill="none"/>
<path d="M386.3 194.9V308.1M425.2 194.9V308.1M447.9 194.9V308.1M464.1 194.9V308.1M476.6 194.9V308.1M486.8 194.9V308.1M495.4 194.9V308.1M502.9 194.9V308.1M509.5 194.9V308.1M515.5 194.9V308.1" stroke="#9c9c9c" stroke-width="1" fill="none"/>
<path d="M322.5 261.2L326.9 265.5L331.1 269L333.8 270.8L341.8 275.8L345.4 278.6L347.7 281.5L355.7 293.4L358.2 296.7L362.6 301.5L367 305.7L368.6 306.9L369.6 307.1L370.4 307L373.7 304.7L378.8 303.3L382.9 301.3L383.4 300.6L384 299L385.6 290.1L386.2 288.8L386.4 289.1L386.9 291L388.1 300.3L388.8 303.9L389.5 305.9L390 306.6L390.6 307L392.3 307.3L396 307.3L407.3 306.8L409.9 306.3L415.9 304.6L419.6 303.9L420.9 303.3L421.4 302.4L421.8 300.5L422.3 295.4L423.9 235.5L424 235.7L424.3 242.5L425.1 282.2L425.7 297.9L426 301.4L426.4 303.8L427.1 305.2L428.3 306.3L430.6 307.1L434.1 307.4L442.7 307.5L444.5 307.3L445.3 307L445.9 305.4L446.1 302.8L447.1 285.6L448.2 304.6L448.6 306.7L449 307.2L449.7 307.4L453.1 307.7L462.7 307.8L463.3 307.6L464.1 306.7L464.8 307.6L465.3 307.8L475.4 307.7L475.6 307.6L475.9 307.1L476.6 301.9L477.3 307.2L477.5 307.6L478.2 307.8L485.9 307.8L486.3 307.6L486.7 306.8L487.6 307.8L494.6 307.8L495 307.7L495.4 306.5L495.9 307.7L496.6 307.9L502.2 307.8L502.5 307.7L502.9 306.7L503.3 307.7L503.9 307.9L509 307.8L509.2 307.7L509.5 307.1L509.9 307.8L510.3 307.9L515 307.8L515.4 307.1L515.8 307.8L516.2 307.9L525.2 307.9L525.7 307.4L526 307.8L526.3 307.9L533.9 307.9L534.4 307.5L534.8 307.9L541.9 307.9" fill="none" stroke="#ff4258" stroke-width="1.0" stroke-opacity="0.65" stroke-linejoin="round" clip-path="url(#cr1)"/>
<path d="M322.5 261.7L327 266.3L331.4 269.8L334.2 271.6L343.2 276.2L345 277.3L346.5 278.6L348.8 281.1L352.5 285.8L357.2 292.6L359.5 295.6L364.5 301.1L367.5 304.9L368.5 305.7L369.4 306.2L370.8 305.9L373.8 304L379.6 301.6L382 300.3L382.9 299.4L383.4 298L384 295.2L385.6 279.5L386.2 276.9L386.4 277.4L386.9 280.4L388.1 295.8L388.9 302.7L389.3 304.5L389.9 305.9L390.6 306.7L391.5 307L394.5 307.3L399.5 307.2L421.2 306L421.8 305.4L422.4 303.6L423.5 295.2L423.9 293.4L424.3 294.6L425.3 302.7L426 305.8L426.4 306.5L426.8 306.7L429.2 307.3L440.8 307.6L444.1 307.6L445.3 307.4L445.7 306.9L446 306.1L446.8 300.3L447.1 299.4L448.3 306.7L448.7 307.3L449.8 307.6L462.7 307.8L463.3 307.7L464.1 307.2L464.8 307.7L465.3 307.8L475.2 307.8L475.9 307.7L476.6 307L477.3 307.8L478.2 307.8L485.9 307.9L486.7 307.5L487.4 307.8L488.3 307.9L541.9 307.9" fill="none" stroke="#4a44ff" stroke-width="1.0" stroke-opacity="0.72" stroke-linejoin="round" clip-path="url(#cr1)"/>
<path d="M322.5 194.9V308.1H541.9" stroke="#9a9a9a" stroke-width="1" fill="none"/>
<path d="M322.5 308.1h-2.5M322.5 251.5h-2.5M322.5 194.9h-2.5M322.5 308.1v2.5M451.6 308.1v2.5" stroke="#777" stroke-width="1" fill="none"/>
<text x="316.3" y="312.0" text-anchor="end" font-family='Liberation Sans' font-size="10.3" fill="#222">0</text>
<text x="316.3" y="255.4" text-anchor="end" font-family='Liberation Sans' font-size="10.3" fill="#222">0.5</text>
<text x="316.3" y="198.8" text-anchor="end" font-family='Liberation Sans' font-size="10.3" fill="#222">1</text>
<text x="325.5" y="327.0" text-anchor="end" font-family='Liberation Sans' font-size="10.3" fill="#222">10</text>
<text x="326.3" y="321.8" font-family='Liberation Sans' font-size="8.4" fill="#222">0</text>
<text x="454.6" y="327.0" text-anchor="end" font-family='Liberation Sans' font-size="10.3" fill="#222">10</text>
<text x="455.4" y="321.8" font-family='Liberation Sans' font-size="8.4" fill="#222">1</text>
<text x="432.2" y="340.2" text-anchor="middle" font-family='Liberation Serif' font-size="11.8" fill="#2e2e2e" textLength="83" lengthAdjust="spacingAndGlyphs">Frequency - [ Hz ]</text>
<text transform="translate(295.2 251.5) rotate(-90)" text-anchor="middle" font-family='Liberation Serif' font-size="11.8" fill="#2e2e2e" textLength="102.5" lengthAdjust="spacingAndGlyphs">Displacement - [ mm ]</text>
<text x="432.2" y="187.6" text-anchor="middle" font-family='Liberation Serif' font-size="11" font-weight="bold" fill="#111" textLength="80" lengthAdjust="spacingAndGlyphs">(d) Bridge 2: FFT</text>
<rect x="405.4" y="201.9" width="129.6" height="13.7" fill="#fff" stroke="#8a8a8a" stroke-width="1"/>
<path d="M408.0 208.6h23.2" stroke="#ff5468" stroke-opacity="0.85" stroke-width="1"/>
<path d="M473.9 208.6h23" stroke="#6b5cff" stroke-opacity="0.8" stroke-width="1"/>
<text x="432.7" y="212.0" font-family="'Liberation Sans'" font-size="9.6" fill="#111" textLength="36" lengthAdjust="spacingAndGlyphs">Dynamic</text>
<text x="497.7" y="212.0" font-family="'Liberation Sans'" font-size="9.6" fill="#111" textLength="34.6" lengthAdjust="spacingAndGlyphs">Q-Static</text>
<rect x="349.3" y="255.8" width="35.8" height="20.2" rx="0.8" fill="#fcfcfc" stroke="#d4d4d4" stroke-width="1"/>
<text x="352.3" y="268.1" font-family="'Liberation Sans'" font-size="9.3" fill="#3a3a3a">X</text>
<text x="360.7" y="268.1" font-family="'Liberation Serif'" font-size="9.7" font-weight="bold" fill="#1696ee" textLength="19.8" lengthAdjust="spacingAndGlyphs">3.117</text>
<circle cx="386.1" cy="277.0" r="1.7" fill="#000"/>
<rect x="424.5" y="236.3" width="35.8" height="20.2" rx="0.8" fill="#fcfcfc" stroke="#d4d4d4" stroke-width="1"/>
<text x="427.5" y="248.6" font-family="'Liberation Sans'" font-size="9.3" fill="#3a3a3a">X</text>
<text x="435.9" y="248.6" font-family="'Liberation Serif'" font-size="9.7" font-weight="bold" fill="#1696ee" textLength="19.8" lengthAdjust="spacingAndGlyphs">6.104</text>
<circle cx="423.5" cy="235.3" r="1.7" fill="#000"/>
<rect x="447.4" y="264.4" width="35.8" height="20.2" rx="0.8" fill="#fcfcfc" stroke="#d4d4d4" stroke-width="1"/>
<text x="450.4" y="276.7" font-family="'Liberation Sans'" font-size="9.3" fill="#3a3a3a">X</text>
<text x="458.8" y="276.7" font-family="'Liberation Serif'" font-size="9.7" font-weight="bold" fill="#1696ee" textLength="19.8" lengthAdjust="spacingAndGlyphs">9.221</text>
<circle cx="446.4" cy="285.6" r="1.7" fill="#000"/>
<path d="M86.4 371.3V486.9M129.4 371.3V486.9M172.5 371.3V486.9M215.5 371.3V486.9M258.5 371.3V486.9M43.4 463.8H258.5M43.4 440.7H258.5M43.4 417.5H258.5M43.4 394.4H258.5M43.4 371.3H258.5" stroke="#efefef" stroke-width="1" fill="none"/>
<path d="M43.4 440.7L45.2 427.3L47.1 396.4L48.9 387.1L49 387.1L51 406.9L53.6 426.4L55.5 411.2L57.4 385.4L58.4 389.6L58.6 389.5L59.2 387.8L59.4 387.9L60.7 397.1L63.6 414.4L63.7 410.8L64.2 414.4L64.5 415.4L65.2 411.1L65.3 410.5L65.7 410.7L65.8 410.2L66.6 402.1L66.8 401.8L67.1 401.9L67.3 401.1L67.9 393.9L68.6 400.8L68.7 401.8L68.9 402L69.1 401.8L69.2 401.9L69.4 402.7L70 410L70.2 410.6L70.5 410.5L70.7 410.9L71.1 414.5L71.3 415.3L71.5 415.4L72.1 411L72.3 410.5L72.6 410.7L72.8 410.2L73.6 402L73.7 401.8L74.1 401.9L74.2 401.1L74.9 393.8L75.5 400.9L75.7 401.8L76.1 401.9L76.3 402.8L77 410.1L77.1 410.6L77.4 410.5L77.6 410.9L78.1 414.5L78.2 415.3L78.4 415.4L79.1 411L79.2 410.5L79.5 410.6L79.7 410.2L80.5 402L80.7 401.8L80.8 401.9L81 401.8L81.2 401L81.8 393.7L82.4 401L82.6 401.8L83.1 402L83.9 410.1L84.1 410.6L84.4 410.5L84.5 411L85.2 415.4L85.3 415.3L85.5 414.6L86 410.9L86.2 410.5L86.5 410.6L86.6 410.1L87.3 402.9L87.4 402L87.9 401.8L88.1 400.9L88.7 393.8L89.4 401L89.5 401.8L89.9 401.8L90 402L90.8 410.2L91 410.6L91.3 410.5L91.5 411L92.1 415.4L92.3 415.3L92.4 414.5L92.9 410.9L93.1 410.5L93.4 410.6L93.6 410L94.2 402.8L94.4 401.9L94.9 401.8L95 400.9L95.7 393.8L96.3 401.1L96.5 401.9L96.8 401.8L97 402L97.8 410.2L97.9 410.7L98.3 410.5L98.4 411.1L99.1 415.4L99.4 414.4L99.9 410.8L100 410.5L100.3 410.6L100.5 410L101.2 402.7L101.3 401.9L101.6 402L101.8 401.7L102 400.8L102.6 393.9L103.3 401.2L103.4 401.9L103.7 401.8L103.9 402.1L104.7 410.3L104.9 410.7L105.2 410.5L105.3 411.1L106 415.4L106.3 414.4L106.8 410.8L107 410.5L107.3 410.6L107.4 409.9L108.1 402.6L108.3 401.9L108.6 402L108.7 401.7L109.5 394L110.2 401.2L110.3 401.9L110.7 401.8L110.8 402.1L111.6 410.3L111.8 410.7L112.1 410.5L112.3 411.2L112.9 415.4L113.3 414.3L113.7 410.8L113.9 410.5L114.2 410.6L114.4 409.9L115 402.6L115.2 401.9L115.5 402L115.7 401.7L116.5 394L117.1 401.3L117.3 401.9L117.6 401.8L117.8 402.2L118.6 410.3L118.7 410.7L119.1 410.6L119.9 415.4L120.7 410.7L120.8 410.5L121.2 410.6L121.3 409.8L122 402.5L122.1 401.9L122.4 402L122.6 401.6L123.4 394.1L124.1 401.4L124.2 401.9L124.5 401.8L124.7 402.2L125.5 410.4L125.7 410.7L126 410.6L126.8 415.5L127.6 410.7L127.8 410.5L127.9 410.6L128.1 410.5L128.3 409.7L128.9 402.5L129.1 401.8L129.4 402L129.5 401.6L130.2 394.5L130.4 394.2L131 401.4L131.2 401.9L131.5 401.8L131.6 402.2L132.3 409.4L132.5 410.4L132.6 410.7L132.9 410.6L133.7 415.5L134.5 410.7L135 410.5L135.2 409.6L135.8 402.4L136 401.8L136.3 402L136.5 401.5L137.1 394.4L137.3 394.3L137.9 401.5L138.1 401.9L138.4 401.8L138.6 402.3L139.2 409.5L139.4 410.5L139.5 410.7L139.7 410.5L139.9 410.6L140.7 415.5L141.5 410.6L142 410.5L142.1 409.6L142.8 402.3L142.9 401.8L143.3 401.9L143.4 401.5L144.1 394.3L144.2 394.3L144.9 401.5L145 401.9L145.4 401.8L145.5 402.4L146.2 409.6L146.3 410.5L146.8 410.6L147.6 415.5L148.4 410.6L148.6 410.5L148.7 410.7L148.9 410.4L149.1 409.5L149.7 402.3L149.9 401.8L150.2 401.9L150.4 401.4L151 394.2L151.2 394.4L151.8 401.6L152 402L152.3 401.8L152.5 402.4L153.1 409.7L153.3 410.5L153.7 410.7L154.6 415.5L155.4 410.6L155.7 410.7L155.8 410.4L156.7 402.2L156.8 401.8L157.1 401.9L157.3 401.4L157.9 394.2L158.1 394.5L158.7 401.6L158.9 402L159.2 401.8L159.4 402.5L160 409.7L160.2 410.5L160.4 410.6L160.5 410.5L160.7 410.7L161.5 415.4L162.3 410.6L162.6 410.7L162.8 410.4L163.6 402.2L163.7 401.8L164.1 401.9L164.2 401.3L164.9 394.1L165.7 401.6L165.8 402L166.2 401.9L166.3 402.5L167 409.8L167.1 410.6L167.5 410.5L167.6 410.7L168.4 415.4L169.2 410.6L169.6 410.7L169.7 410.3L170.5 402.1L170.7 401.8L171 401.9L171.2 401.3L171.8 394L172.6 401.7L172.8 402L173.1 401.9L173.3 402.6L173.9 409.9L174.1 410.6L174.4 410.5L174.6 410.8L175 414.3L175.4 415.4L176 411.2L176.2 410.5L176.5 410.7L176.7 410.3L177.5 402.1L177.6 401.8L177.9 401.9L178.1 401.2L178.8 393.9L179.6 401.7L179.7 402L180 401.9L180.2 402.7L180.8 409.9L181 410.6L181.3 410.5L181.5 410.8L182 414.4L182.3 415.4L182.9 411.1L183.1 410.5L183.4 410.7L183.6 410.3L184.4 402.1L184.6 401.8L184.9 401.9L185 401.2L185.7 393.9L186.3 400.8L186.5 401.8L186.7 402L186.8 401.8L187 401.9L187.1 402.7L187.8 410L187.9 410.6L188.3 410.5L188.4 410.9L188.9 414.5L189.1 415.3L189.2 415.4L189.9 411L190 410.5L190.4 410.7L190.5 410.2L191.3 402L191.5 401.8L191.8 401.9L192 401.1L192.6 393.8L193.3 400.9L193.4 401.8L193.9 401.9L194.7 410.1L194.9 410.6L195.2 410.5L195.4 410.9L196 415.3L196.2 415.4L197 411.9L197.6 412.2L197.9 411.8L198.3 412.5L199.4 419.7L201.7 440.2L202.1 441.7L202.5 441.7L203.3 440.3L203.6 440.1L204.9 440.9L206.3 440.6L207.6 440.7L258.4 440.7" fill="none" stroke="#ff4258" stroke-width="1.1" stroke-opacity="0.65" stroke-linejoin="round" clip-path="url(#cl2)"/>
<path d="M43.4 440.7L45.2 427.6L47.1 398.8L48.9 390.7L49 390.7L53.6 425.5L55.5 411.4L57.4 391.7L59.7 394.4L63.6 411.7L63.7 410.6L64.2 412.5L64.9 412.3L67.9 398.7L71 412.1L71.1 412.5L71.6 412.5L71.8 412.3L74.9 398.6L77.9 412.2L78.1 412.5L78.6 412.5L81.8 398.6L85 412.5L85.5 412.5L85.7 412.2L88.7 398.6L92 412.5L92.4 412.5L92.6 412.2L95.7 398.7L98.9 412.5L99.4 412.5L99.5 412.1L102.6 398.7L105.7 412.3L105.8 412.5L106.3 412.5L106.5 412.1L109.5 398.7L112.6 412.4L112.8 412.5L113.3 412.5L113.4 412L116.5 398.8L119.5 412.4L120.2 412.5L120.4 412L123.4 398.8L126.5 412.5L127.1 412.5L127.3 411.9L130.2 399L130.4 398.9L133.4 412.5L134.1 412.5L134.2 411.9L137.1 399L137.3 398.9L140.4 412.5L141 412.5L144.1 398.9L144.2 398.9L147.3 412.5L147.9 412.5L151 398.9L151.2 399L154.1 411.9L154.2 412.5L154.9 412.5L157.9 398.9L161 412L161.2 412.5L161.8 412.4L164.9 398.8L167.9 412L168.1 412.5L168.6 412.5L168.7 412.4L171.8 398.8L174.9 412L175 412.5L175.5 412.5L175.7 412.4L178.8 398.7L181.8 412.1L182 412.5L182.5 412.5L182.6 412.3L185.7 398.7L188.8 412.1L188.9 412.5L189.4 412.5L192.6 398.6L195.7 412.2L196.5 412.9L197.5 410.4L198.9 416.6L201.8 440.7" fill="none" stroke="#4a44ff" stroke-width="1.1" stroke-opacity="0.72" stroke-linejoin="round" clip-path="url(#cl2)"/>
<path d="M43.4 371.3V486.9H258.5" stroke="#9a9a9a" stroke-width="1" fill="none"/>
<path d="M43.4 486.9h-2.5M43.4 463.8h-2.5M43.4 440.7h-2.5M43.4 417.5h-2.5M43.4 394.4h-2.5M43.4 371.3h-2.5M43.4 486.9v2.5M86.4 486.9v2.5M129.4 486.9v2.5M172.5 486.9v2.5M215.5 486.9v2.5M258.5 486.9v2.5" stroke="#777" stroke-width="1" fill="none"/>
<text x="37.2" y="490.8" text-anchor="end" font-family='Liberation Sans' font-size="10.3" fill="#222">-1</text>
<text x="37.2" y="467.7" text-anchor="end" font-family='Liberation Sans' font-size="10.3" fill="#222">-0.5</text>
<text x="37.2" y="444.6" text-anchor="end" font-family='Liberation Sans' font-size="10.3" fill="#222">0</text>
<text x="37.2" y="421.4" text-anchor="end" font-family='Liberation Sans' font-size="10.3" fill="#222">0.5</text>
<text x="37.2" y="398.3" text-anchor="end" font-family='Liberation Sans' font-size="10.3" fill="#222">1</text>
<text x="37.2" y="375.2" text-anchor="end" font-family='Liberation Sans' font-size="10.3" fill="#222">1.5</text>
<text x="43.4" y="503.4" text-anchor="middle" font-family='Liberation Sans' font-size="10.3" fill="#222">0</text>
<text x="86.4" y="503.4" text-anchor="middle" font-family='Liberation Sans' font-size="10.3" fill="#222">2</text>
<text x="129.4" y="503.4" text-anchor="middle" font-family='Liberation Sans' font-size="10.3" fill="#222">4</text>
<text x="172.5" y="503.4" text-anchor="middle" font-family='Liberation Sans' font-size="10.3" fill="#222">6</text>
<text x="215.5" y="503.4" text-anchor="middle" font-family='Liberation Sans' font-size="10.3" fill="#222">8</text>
<text x="258.5" y="503.4" text-anchor="middle" font-family='Liberation Sans' font-size="10.3" fill="#222">10</text>
<text x="150.9" y="516.5" text-anchor="middle" font-family='Liberation Serif' font-size="11.8" fill="#2e2e2e" textLength="48.2" lengthAdjust="spacingAndGlyphs">Time - [ s ]</text>
<text transform="translate(11.6 429.6) rotate(-90)" text-anchor="middle" font-family='Liberation Serif' font-size="11.8" fill="#2e2e2e" textLength="103.2" lengthAdjust="spacingAndGlyphs">Displacement - [ mm ]</text>
<text x="150.9" y="364.0" text-anchor="middle" font-family='Liberation Serif' font-size="11" font-weight="bold" fill="#111" textLength="54.5" lengthAdjust="spacingAndGlyphs">(e) Bridge 3</text>
<rect x="49.5" y="466.8" width="129.6" height="13.7" fill="#fff" stroke="#8a8a8a" stroke-width="1"/>
<path d="M52.1 473.5h23.2" stroke="#ff5468" stroke-opacity="0.85" stroke-width="1"/>
<path d="M118.0 473.5h23" stroke="#6b5cff" stroke-opacity="0.8" stroke-width="1"/>
<text x="76.8" y="476.9" font-family="'Liberation Sans'" font-size="9.6" fill="#111" textLength="36" lengthAdjust="spacingAndGlyphs">Dynamic</text>
<text x="141.8" y="476.9" font-family="'Liberation Sans'" font-size="9.6" fill="#111" textLength="34.6" lengthAdjust="spacingAndGlyphs">Q-Static</text>
<path d="M366.2 371.1V484.2M388.4 371.1V484.2M404.1 371.1V484.2M416.2 371.1V484.2M426.2 371.1V484.2M434.6 371.1V484.2M441.9 371.1V484.2M448.3 371.1V484.2M491.9 371.1V484.2M514.0 371.1V484.2M529.7 371.1V484.2" stroke="#f4f4f4" stroke-width="1" fill="none"/>
<path d="M454.1 371.1V484.2M328.4 455.9H541.9M328.4 427.6H541.9M328.4 399.4H541.9M328.4 371.1H541.9" stroke="#efefef" stroke-width="1" fill="none"/>
<path d="M390.5 371.1V484.2M428.3 371.1V484.2M450.5 371.1V484.2M466.2 371.1V484.2M478.3 371.1V484.2M488.3 371.1V484.2M496.7 371.1V484.2M504.0 371.1V484.2M510.4 371.1V484.2M516.2 371.1V484.2" stroke="#9c9c9c" stroke-width="1" fill="none"/>
<path d="M328.4 469.2L331.5 472.4L333.1 473.5L334.8 474.5L336.7 475.1L338.7 475.5L340.6 475.6L341.9 475.2L343.4 474.3L344.8 472.9L352.4 463.2L359.9 455.9L361.9 454.2L363.6 453L365.3 452.2L366.7 451.9L368.2 452L369.7 452.4L371.4 453.2L373.3 454.4L377.9 457.9L381.5 462.7L382.7 464L383.9 464.7L384.9 464.5L385.5 463.4L386.2 461.6L386.9 458.7L387.1 456.7L389.6 418.6L390 414L390.2 413.1L390.5 414.4L390.9 420.7L392.2 458.9L392.9 472.3L393.6 478.3L394.1 479.8L394.8 480.4L395.4 480.6L396.2 480.5L398.1 478L398.8 477.6L400.5 478.3L404.6 481.5L406.4 482.3L418.4 482.8L422.1 482.8L424 482.4L424.8 481.4L425.3 479.3L426.7 465.7L427.1 463.8L427.5 465.7L428.8 479.7L429.3 481.7L430.1 482.5L431.7 482.9L434.7 483.1L447.8 483.1L448.3 482.9L448.6 482.5L449.5 479.7L450.4 482.5L450.7 482.9L451.2 483.2L464.9 483.3L465.4 483.1L466.2 481.9L467.1 483.3L468.3 483.3L469.4 483.1L470.3 482.6L471.1 481.9L473.4 478.6L474.2 477.8L475.1 477.7L476.6 478.7L476.9 478.3L477.3 471.7L477.8 451.9L478.6 479.8L479 481.8L479.5 482.6L480.2 483L482.5 483.4L487.4 483.3L487.8 482.3L488.2 478.1L488.9 483L489.2 483.4L489.7 483.5L496 483.4L496.2 483.1L496.6 480.4L497.2 483.1L497.4 483.5L503.3 483.4L503.6 483L504 479.1L504.4 482.9L504.5 483.3L504.9 483.5L509.9 483.5L510.1 483.2L510.4 482L510.8 483.4L511.3 483.6L515.7 483.5L516.1 482L516.5 483.5L516.9 483.6L541.9 483.6" fill="none" stroke="#ff4258" stroke-width="1.0" stroke-opacity="0.65" stroke-linejoin="round" clip-path="url(#cr2)"/>
<path d="M328.4 469.2L331.5 472.4L333.1 473.5L334.8 474.5L336.7 475.1L338.7 475.5L340.6 475.6L341.9 475.2L343.4 474.3L344.8 472.9L352.4 463.2L359.9 455.9L361.9 454.2L363.6 453L365.3 452.2L366.7 451.9L368.2 452L369.7 452.4L371.4 453.2L373.3 454.4L377.9 457.9L381.5 462.6L382.7 464L383.9 464.6L384.9 464.4L385.5 463.4L386.2 461.6L386.9 458.7L387.1 456.6L389.6 417.7L390 413L390.2 412L390.5 413.3L390.9 419.7L392.2 458.4L392.9 472.1L393.6 478.2L394.1 479.7L394.8 480.4L395.4 480.5L396.2 480.4L398.1 478L398.8 477.6L400.5 478.3L404.6 481.5L406.4 482.3L418.7 482.8L422.3 482.7L424 482.3L424.4 482L424.8 481.3L425.3 478.9L426.7 464L427.1 462L427.5 464L428.4 475.9L428.9 480.1L429.6 482.1L430.1 482.5L430.9 482.7L434.1 483L441.2 483.2L446 483.1L447.8 482.9L448.3 482.1L448.6 480.7L449.5 471.2L450.6 481.5L451 482.7L452 483.1L457.4 483.3L476.6 483.4L477.1 483.3L477.8 481.9L478.5 483.3L479.4 483.5L541.9 483.6" fill="none" stroke="#4a44ff" stroke-width="1.0" stroke-opacity="0.72" stroke-linejoin="round" clip-path="url(#cr2)"/>
<path d="M328.4 371.1V484.2H541.9" stroke="#9a9a9a" stroke-width="1" fill="none"/>
<path d="M328.4 484.2h-2.5M328.4 455.9h-2.5M328.4 427.6h-2.5M328.4 399.4h-2.5M328.4 371.1h-2.5M328.4 484.2v2.5M454.1 484.2v2.5" stroke="#777" stroke-width="1" fill="none"/>
<text x="322.2" y="488.1" text-anchor="end" font-family='Liberation Sans' font-size="10.3" fill="#222">0</text>
<text x="322.2" y="459.8" text-anchor="end" font-family='Liberation Sans' font-size="10.3" fill="#222">0.05</text>
<text x="322.2" y="431.5" text-anchor="end" font-family='Liberation Sans' font-size="10.3" fill="#222">0.1</text>
<text x="322.2" y="403.3" text-anchor="end" font-family='Liberation Sans' font-size="10.3" fill="#222">0.15</text>
<text x="322.2" y="375.0" text-anchor="end" font-family='Liberation Sans' font-size="10.3" fill="#222">0.2</text>
<text x="331.4" y="503.1" text-anchor="end" font-family='Liberation Sans' font-size="10.3" fill="#222">10</text>
<text x="332.2" y="497.9" font-family='Liberation Sans' font-size="8.4" fill="#222">0</text>
<text x="457.1" y="503.1" text-anchor="end" font-family='Liberation Sans' font-size="10.3" fill="#222">10</text>
<text x="457.9" y="497.9" font-family='Liberation Sans' font-size="8.4" fill="#222">1</text>
<text x="435.1" y="516.3" text-anchor="middle" font-family='Liberation Serif' font-size="11.8" fill="#2e2e2e" textLength="83" lengthAdjust="spacingAndGlyphs">Frequency - [ Hz ]</text>
<text transform="translate(295.2 427.6) rotate(-90)" text-anchor="middle" font-family='Liberation Serif' font-size="11.8" fill="#2e2e2e" textLength="102.5" lengthAdjust="spacingAndGlyphs">Displacement - [ mm ]</text>
<text x="435.1" y="363.8" text-anchor="middle" font-family='Liberation Serif' font-size="11" font-weight="bold" fill="#111" textLength="74" lengthAdjust="spacingAndGlyphs">(f) Bridge 3 FFT</text>
<rect x="405.4" y="378.1" width="129.6" height="13.7" fill="#fff" stroke="#8a8a8a" stroke-width="1"/>
<path d="M408.0 384.8h23.2" stroke="#ff5468" stroke-opacity="0.85" stroke-width="1"/>
<path d="M473.9 384.8h23" stroke="#6b5cff" stroke-opacity="0.8" stroke-width="1"/>
<text x="432.7" y="388.2" font-family="'Liberation Sans'" font-size="9.6" fill="#111" textLength="36" lengthAdjust="spacingAndGlyphs">Dynamic</text>
<text x="497.7" y="388.2" font-family="'Liberation Sans'" font-size="9.6" fill="#111" textLength="34.6" lengthAdjust="spacingAndGlyphs">Q-Static</text>
<rect x="353.6" y="391.7" width="35.8" height="20.2" rx="0.8" fill="#fcfcfc" stroke="#d4d4d4" stroke-width="1"/>
<text x="356.6" y="404.0" font-family="'Liberation Sans'" font-size="9.3" fill="#3a3a3a">X</text>
<text x="365.0" y="404.0" font-family="'Liberation Serif'" font-size="9.7" font-weight="bold" fill="#1696ee" textLength="19.8" lengthAdjust="spacingAndGlyphs">3.117</text>
<circle cx="390.4" cy="412.9" r="1.7" fill="#000"/>
<rect x="427.5" y="440.8" width="35.8" height="20.2" rx="0.8" fill="#fcfcfc" stroke="#d4d4d4" stroke-width="1"/>
<text x="430.5" y="453.1" font-family="'Liberation Sans'" font-size="9.3" fill="#3a3a3a">X</text>
<text x="438.9" y="453.1" font-family="'Liberation Serif'" font-size="9.7" font-weight="bold" fill="#1696ee" textLength="19.8" lengthAdjust="spacingAndGlyphs">6.098</text>
<circle cx="426.5" cy="462.0" r="1.7" fill="#000"/>
<rect x="478.5" y="430.7" width="35.8" height="20.2" rx="0.8" fill="#fcfcfc" stroke="#d4d4d4" stroke-width="1"/>
<text x="481.5" y="443.0" font-family="'Liberation Sans'" font-size="9.3" fill="#3a3a3a">X</text>
<text x="489.9" y="443.0" font-family="'Liberation Serif'" font-size="9.7" font-weight="bold" fill="#1696ee" textLength="19.8" lengthAdjust="spacingAndGlyphs">15.45</text>
<circle cx="477.5" cy="451.9" r="1.7" fill="#000"/>
<path d="M82.5 546.3V662.7M126.5 546.3V662.7M170.5 546.3V662.7M214.5 546.3V662.7M258.5 546.3V662.7M38.5 633.6H258.5M38.5 604.5H258.5M38.5 575.4H258.5M38.5 546.3H258.5" stroke="#efefef" stroke-width="1" fill="none"/>
<path d="M38.5 633.6L40.5 626.3L43.1 609.4L46.3 591.7L48.9 581.6L51.9 572.7L53.8 571.1L55.7 572.5L57.1 569.7L59.5 568L61.6 562L63.2 569.8L64.9 572.5L66.4 568.3L67.4 574.9L67.9 568.7L68.5 571.8L69.2 573.2L70.5 577.8L71.5 571.6L72.2 573L72.7 573.5L73.6 575.8L74.1 576L75 568.8L75.6 573.1L77.3 575.7L77.6 576.8L78.6 571.9L79.3 573.9L79.8 574.1L80.7 575.2L81.2 575.3L82.1 568.8L82.7 573.7L82.9 574.1L84.2 575L84.7 576.2L85.5 572.1L85.7 572L86.4 574.3L87.8 574.9L88.3 575L89.2 568.9L89.8 574.1L90 574.4L91.3 574.8L91.8 576L92.6 572L92.8 572.1L93.4 574.5L95.4 574.8L96.2 569L96.9 574.3L97.1 574.5L98.4 574.8L98.9 575.8L99.7 572L100.5 574.6L102.5 574.7L103.3 569.1L104 574.5L105.5 574.7L106 575.7L106.8 572L107.6 574.6L109.6 574.7L110.4 569.2L111.1 574.6L112.6 574.7L113.1 575.7L113.9 571.9L114.7 574.7L116.7 574.7L117.5 569.3L118.2 574.7L119.7 574.7L120.2 575.6L121 571.9L121.8 574.7L123.8 574.7L124.6 569.3L125.3 574.7L126.8 574.7L127.1 575.6L127.3 575.6L128.1 571.8L128.9 574.7L130.9 574.7L131.6 569.6L131.7 569.4L132.4 574.7L133.9 574.7L134.2 575.6L134.4 575.5L135.2 571.8L136 574.7L138 574.7L138.7 569.6L138.8 569.5L139.5 574.7L141 574.7L141.3 575.6L141.5 575.5L142.3 571.8L143.1 574.7L145.1 574.7L145.8 569.5L145.9 569.6L146.6 574.7L148.1 574.7L148.4 575.6L149.4 571.8L150 574.5L150.2 574.7L152.2 574.7L152.8 569.4L153 569.7L153.7 574.7L155.2 574.7L155.5 575.7L156.5 571.9L157.1 574.6L159.3 574.7L159.9 569.3L160.8 574.7L162.2 574.7L162.6 575.7L163.6 571.9L164.2 574.6L166.4 574.7L167 569.2L167.9 574.7L169.3 574.7L169.7 575.7L170.7 571.9L171.3 574.6L173.5 574.6L174.1 569.2L175 574.7L176.4 574.7L176.8 575.8L177.8 572L178.4 574.7L180.4 574.7L180.6 574.5L181.2 569.1L182 574.7L183.5 574.7L183.9 575.8L184.9 572L185.5 574.7L187.5 574.7L187.7 574.4L188.3 569L189.1 574.7L190.6 574.8L191 575.8L191.8 572.2L192 572L192.6 574.7L194.6 574.7L195.4 568.9L196.2 575.2L197.4 577.8L197.6 577.9L197.7 577.7L198.5 579.1L198.9 578.8L199.7 585.2L201.7 595L201.8 595.6L202.5 595.9L203.3 603.3L206.8 620.4L209.1 630.2L210.4 633.4L210.6 633.4L211.3 632.1L211.6 632.1L212.7 634.7L213.1 635.1L213.6 634.7L214.4 632.7L214.9 632.1L215.4 632.6L216.2 634.6L216.7 635L217.2 634.4L218 632.5L218.3 632.2L218.7 632.4L219.7 634.5L220.2 634.9L220.5 634.7L221.3 632.9L221.8 632.3L222.3 632.7L223.1 634.4L223.6 634.9L224.1 634.4L225 632.7L225.4 632.4L225.8 632.7L226.8 634.5L227.1 634.8L227.6 634.4L228.4 632.8L228.9 632.5L229.2 632.7L230.1 634.2L230.6 634.7L231.1 634.4L231.9 632.9L232.4 632.5L232.7 632.7L233.7 634.4L234 634.6L234.5 634.4L235.3 633L235.8 632.6L236.3 632.9L237.2 634.3L237.7 634.6L239.3 632.7L239.6 632.8L240.6 634.2L241.1 634.5L242.8 632.7L243.3 633L244.1 634.1L244.6 634.5L245.1 634.1L245.9 633L246.4 632.8L248 634.4L248.5 634.1L249.4 633.1L249.9 632.8L251.5 634.4L252 634.1L252.8 633.1L253.3 632.9L255 634.3L255.5 634.1L256.3 633.2L256.8 632.9L257.3 633.2L258.4 634.3" fill="none" stroke="#ff4258" stroke-width="1.1" stroke-opacity="0.65" stroke-linejoin="round" clip-path="url(#cl3)"/>
<path d="M38.5 633.6L40.5 626.3L43.1 609.7L46.3 592.3L48.9 582.8L51.9 574.4L57.1 571.6L62.3 566.7L64.9 571.6L67.2 575.2L67.4 574.8L69.8 574.8L70.5 577.1L71.2 574.8L76.9 574.8L77.6 577.1L78.1 574.9L78.3 574.8L84 574.8L84.7 577.1L85.2 574.9L85.4 574.8L91.1 574.8L91.8 577L92.3 574.8L92.5 574.8L98.2 574.8L98.9 577L99.4 574.8L105.3 574.8L106 576.9L106.5 574.8L112.4 574.8L113.1 576.9L113.6 574.8L119.5 574.8L120 576.7L120.2 576.8L120.7 574.8L126.6 574.8L127.1 576.8L127.3 576.8L127.8 574.8L133.7 574.8L134.2 576.8L134.4 576.8L134.9 574.8L140.8 574.8L141.3 576.9L142 574.8L147.9 574.8L148.4 576.9L149 574.8L155 574.8L155.5 576.9L156.1 574.8L162.1 574.8L162.6 577L163.2 574.8L169 574.8L169.2 574.9L169.7 577L170.3 574.8L176.1 574.8L176.3 574.9L176.8 577.1L177.4 574.8L183.2 574.8L183.4 574.9L183.9 577.1L184.5 574.8L190.3 574.8L191 577.1L191.6 574.8L195.9 574.8L198.9 581.2L206.1 617.6L209.1 630.2L210.6 633.6" fill="none" stroke="#4a44ff" stroke-width="1.1" stroke-opacity="0.72" stroke-linejoin="round" clip-path="url(#cl3)"/>
<path d="M38.5 546.3V662.7H258.5" stroke="#9a9a9a" stroke-width="1" fill="none"/>
<path d="M38.5 662.7h-2.5M38.5 633.6h-2.5M38.5 604.5h-2.5M38.5 575.4h-2.5M38.5 546.3h-2.5M38.5 662.7v2.5M82.5 662.7v2.5M126.5 662.7v2.5M170.5 662.7v2.5M214.5 662.7v2.5M258.5 662.7v2.5" stroke="#777" stroke-width="1" fill="none"/>
<text x="32.3" y="666.6" text-anchor="end" font-family='Liberation Sans' font-size="10.3" fill="#222">-1</text>
<text x="32.3" y="637.5" text-anchor="end" font-family='Liberation Sans' font-size="10.3" fill="#222">0</text>
<text x="32.3" y="608.4" text-anchor="end" font-family='Liberation Sans' font-size="10.3" fill="#222">1</text>
<text x="32.3" y="579.3" text-anchor="end" font-family='Liberation Sans' font-size="10.3" fill="#222">2</text>
<text x="32.3" y="550.2" text-anchor="end" font-family='Liberation Sans' font-size="10.3" fill="#222">3</text>
<text x="38.5" y="679.2" text-anchor="middle" font-family='Liberation Sans' font-size="10.3" fill="#222">0</text>
<text x="82.5" y="679.2" text-anchor="middle" font-family='Liberation Sans' font-size="10.3" fill="#222">2</text>
<text x="126.5" y="679.2" text-anchor="middle" font-family='Liberation Sans' font-size="10.3" fill="#222">4</text>
<text x="170.5" y="679.2" text-anchor="middle" font-family='Liberation Sans' font-size="10.3" fill="#222">6</text>
<text x="214.5" y="679.2" text-anchor="middle" font-family='Liberation Sans' font-size="10.3" fill="#222">8</text>
<text x="258.5" y="679.2" text-anchor="middle" font-family='Liberation Sans' font-size="10.3" fill="#222">10</text>
<text x="148.5" y="692.3" text-anchor="middle" font-family='Liberation Serif' font-size="11.8" fill="#2e2e2e" textLength="48.2" lengthAdjust="spacingAndGlyphs">Time - [ s ]</text>
<text transform="translate(14.9 605.0) rotate(-90)" text-anchor="middle" font-family='Liberation Serif' font-size="11.8" fill="#2e2e2e" textLength="103.2" lengthAdjust="spacingAndGlyphs">Displacement - [ mm ]</text>
<text x="148.5" y="539.0" text-anchor="middle" font-family='Liberation Serif' font-size="11" font-weight="bold" fill="#111" textLength="54.5" lengthAdjust="spacingAndGlyphs">(g) Bridge 4</text>
<rect x="44.6" y="642.6" width="129.6" height="13.7" fill="#fff" stroke="#8a8a8a" stroke-width="1"/>
<path d="M47.2 649.3h23.2" stroke="#ff5468" stroke-opacity="0.85" stroke-width="1"/>
<path d="M113.1 649.3h23" stroke="#6b5cff" stroke-opacity="0.8" stroke-width="1"/>
<text x="71.9" y="652.7" font-family="'Liberation Sans'" font-size="9.6" fill="#111" textLength="36" lengthAdjust="spacingAndGlyphs">Dynamic</text>
<text x="136.9" y="652.7" font-family="'Liberation Sans'" font-size="9.6" fill="#111" textLength="34.6" lengthAdjust="spacingAndGlyphs">Q-Static</text>
<path d="M366.3 546.5V660.1M388.4 546.5V660.1M404.1 546.5V660.1M416.3 546.5V660.1M426.2 546.5V660.1M434.6 546.5V660.1M441.9 546.5V660.1M448.4 546.5V660.1M491.9 546.5V660.1M514.0 546.5V660.1M529.7 546.5V660.1" stroke="#f4f4f4" stroke-width="1" fill="none"/>
<path d="M454.1 546.5V660.1M328.5 603.3H541.9M328.5 546.5H541.9" stroke="#efefef" stroke-width="1" fill="none"/>
<path d="M390.6 546.5V660.1M428.4 546.5V660.1M450.5 546.5V660.1M466.2 546.5V660.1M478.4 546.5V660.1M488.3 546.5V660.1M496.7 546.5V660.1M504.0 546.5V660.1M510.4 546.5V660.1M516.2 546.5V660.1" stroke="#9c9c9c" stroke-width="1" fill="none"/>
<path d="M328.5 575L335.7 597.9L338.8 606.1L344.2 617.3L350.5 629.2L357.5 645.6L361.7 653.9L362.8 655.5L363.9 656.3L364.8 656.3L365.7 655.6L370 649L374 644.7L375.2 643.7L376.3 643.1L377.2 643L378.3 643.1L380.9 644.2L382.4 645.1L385.9 648.6L386.4 648.9L387 648.8L387.8 647.2L389.1 641.6L389.4 640.9L389.6 640.7L389.9 641.1L390.3 642.8L392 653.6L392.6 655.2L393.4 656L394.4 656.1L397.4 655.5L398.7 655.4L399.9 655.8L402.8 657.4L404.2 657.7L410.6 656.6L415.8 657.6L420.3 657.5L422.9 657.2L424.3 656.3L424.9 655.5L425.3 653.8L425.8 647.7L426.3 632.9L427.1 598.6L427.5 591L427.9 598.2L429 640.8L429.4 648.1L429.7 650.3L430.1 651.4L430.5 651.4L430.9 650.9L433.5 646.1L434.2 645.5L434.9 645.5L435.4 645.9L436.1 646.8L438.7 652.7L439.8 654.2L440.3 654.5L440.9 654.3L442.5 652.6L443.3 652.3L444.1 653L445.7 655.9L446.5 656.9L447.3 657.3L447.7 657.2L447.9 656.9L448.3 655.1L448.6 651.3L449.4 620.1L449.7 616.2L450.6 650.3L451 655.7L451.3 656.6L451.5 656.9L452.1 657L452.7 656.7L455.7 654.2L456.5 653.8L457.2 653.8L458.1 654.1L461.3 656L465.4 656.7L470.2 658.3L473.2 658.8L477 658.8L477.4 658.7L477.7 658.2L478.4 653.3L479 658.3L479.3 658.7L480 658.9L487.4 659L487.8 658.8L488.2 657.9L489.1 659L495.9 659L496.3 658.6L496.7 655.7L497.2 658.7L497.5 659L497.9 659L503.3 659L503.6 658.8L504 656.7L504.4 658.8L504.9 659.1L509.9 659.1L510.1 658.8L510.4 657.8L510.8 659L511.3 659.1L541.9 659.2" fill="none" stroke="#ff4258" stroke-width="1.0" stroke-opacity="0.65" stroke-linejoin="round" clip-path="url(#cr3)"/>
<path d="M328.5 575L335.7 597.9L338.8 606.1L344.2 617.3L350.5 629.2L357.5 645.6L361.7 653.9L362.8 655.5L363.9 656.3L364.8 656.3L365.7 655.6L370 649L374 644.7L375.2 643.7L376.3 643.1L377.2 643L378.4 643.1L381.2 644.4L382.6 645.3L385.8 648.5L386.3 648.8L386.8 648.7L387.2 648.3L387.6 647.3L389.1 640.6L389.4 639.8L389.6 639.6L389.9 640L390.3 641.7L391.9 652.8L392.3 654.4L392.8 655.5L393.4 656L394 656.1L397.5 655.5L398.8 655.5L400 655.9L402.7 657.4L403.8 657.8L405.4 657.7L409 656.8L410.4 656.7L411.8 656.8L416.2 657.8L422.5 657.8L423.9 657.6L424.7 657.3L425.4 656.3L425.8 654.7L427.1 642.1L427.5 640.4L427.9 642.2L428.9 652.2L429.4 655.7L430.1 657.3L430.6 657.7L431.5 657.9L435.1 658.2L442.7 658.4L446.3 658.4L447.8 658.1L448.2 657.7L448.6 656.1L449.4 647.8L449.7 646.8L450.9 657.3L451.3 658.1L452.3 658.4L459 658.7L477.2 658.9L477.7 658.6L478.4 656.7L479 658.7L480 658.9L487.4 659L487.8 658.8L488.2 657.9L489.1 659L495.9 659L496.3 658.9L496.7 657.9L497.2 658.9L497.5 659L503.2 659.1L503.6 658.9L504 657.8L504.4 658.9L504.9 659.1L541.9 659.2" fill="none" stroke="#4a44ff" stroke-width="1.0" stroke-opacity="0.72" stroke-linejoin="round" clip-path="url(#cr3)"/>
<path d="M328.5 546.5V660.1H541.9" stroke="#9a9a9a" stroke-width="1" fill="none"/>
<path d="M328.5 660.1h-2.5M328.5 603.3h-2.5M328.5 546.5h-2.5M328.5 660.1v2.5M454.1 660.1v2.5" stroke="#777" stroke-width="1" fill="none"/>
<text x="322.3" y="664.0" text-anchor="end" font-family='Liberation Sans' font-size="10.3" fill="#222">0</text>
<text x="322.3" y="607.2" text-anchor="end" font-family='Liberation Sans' font-size="10.3" fill="#222">0.05</text>
<text x="322.3" y="550.4" text-anchor="end" font-family='Liberation Sans' font-size="10.3" fill="#222">0.1</text>
<text x="331.5" y="679.0" text-anchor="end" font-family='Liberation Sans' font-size="10.3" fill="#222">10</text>
<text x="332.3" y="673.8" font-family='Liberation Sans' font-size="8.4" fill="#222">0</text>
<text x="457.1" y="679.0" text-anchor="end" font-family='Liberation Sans' font-size="10.3" fill="#222">10</text>
<text x="457.9" y="673.8" font-family='Liberation Sans' font-size="8.4" fill="#222">1</text>
<text x="435.2" y="692.2" text-anchor="middle" font-family='Liberation Serif' font-size="11.8" fill="#2e2e2e" textLength="83" lengthAdjust="spacingAndGlyphs">Frequency - [ Hz ]</text>
<text transform="translate(295.2 603.3) rotate(-90)" text-anchor="middle" font-family='Liberation Serif' font-size="11.8" fill="#2e2e2e" textLength="102.5" lengthAdjust="spacingAndGlyphs">Displacement - [ mm ]</text>
<text x="435.2" y="539.2" text-anchor="middle" font-family='Liberation Serif' font-size="11" font-weight="bold" fill="#111" textLength="80" lengthAdjust="spacingAndGlyphs">(h) Bridge 4: FFT</text>
<rect x="405.4" y="553.5" width="129.6" height="13.7" fill="#fff" stroke="#8a8a8a" stroke-width="1"/>
<path d="M408.0 560.2h23.2" stroke="#ff5468" stroke-opacity="0.85" stroke-width="1"/>
<path d="M473.9 560.2h23" stroke="#6b5cff" stroke-opacity="0.8" stroke-width="1"/>
<text x="432.7" y="563.6" font-family="'Liberation Sans'" font-size="9.6" fill="#111" textLength="36" lengthAdjust="spacingAndGlyphs">Dynamic</text>
<text x="497.7" y="563.6" font-family="'Liberation Sans'" font-size="9.6" fill="#111" textLength="34.6" lengthAdjust="spacingAndGlyphs">Q-Static</text>
<rect x="352.6" y="618.4" width="35.8" height="20.2" rx="0.8" fill="#fcfcfc" stroke="#d4d4d4" stroke-width="1"/>
<text x="355.6" y="630.7" font-family="'Liberation Sans'" font-size="9.3" fill="#3a3a3a">X</text>
<text x="364.0" y="630.7" font-family="'Liberation Serif'" font-size="9.7" font-weight="bold" fill="#1696ee" textLength="19.8" lengthAdjust="spacingAndGlyphs">3.072</text>
<circle cx="389.4" cy="639.6" r="1.7" fill="#000"/>
<rect x="427.8" y="569.8" width="35.8" height="20.2" rx="0.8" fill="#fcfcfc" stroke="#d4d4d4" stroke-width="1"/>
<text x="430.8" y="582.1" font-family="'Liberation Sans'" font-size="9.3" fill="#3a3a3a">X</text>
<text x="439.2" y="582.1" font-family="'Liberation Serif'" font-size="9.7" font-weight="bold" fill="#1696ee" textLength="19.8" lengthAdjust="spacingAndGlyphs">6.143</text>
<circle cx="426.8" cy="591.0" r="1.7" fill="#000"/>
<rect x="450.2" y="594.8" width="35.8" height="20.2" rx="0.8" fill="#fcfcfc" stroke="#d4d4d4" stroke-width="1"/>
<text x="453.2" y="607.1" font-family="'Liberation Sans'" font-size="9.3" fill="#3a3a3a">X</text>
<text x="461.6" y="607.1" font-family="'Liberation Serif'" font-size="9.7" font-weight="bold" fill="#1696ee" textLength="19.8" lengthAdjust="spacingAndGlyphs">9.214</text>
<circle cx="449.2" cy="616.0" r="1.7" fill="#000"/>
<path d="M82.3 721.4V837.5M126.4 721.4V837.5M170.4 721.4V837.5M214.5 721.4V837.5M258.5 721.4V837.5M38.3 798.8H258.5M38.3 760.1H258.5M38.3 721.4H258.5" stroke="#efefef" stroke-width="1" fill="none"/>
<path d="M38.3 798.8L42.9 742.7L43.7 742.7L45.6 767.8L48.2 788.2L52.2 742.1L53 742.6L54.2 750.4L55.6 754.2L58.9 770.5L59.4 771.1L60.4 769.7L60.9 769.4L61.3 768L62.4 755L62.9 751.7L63.1 751.7L63.4 753.5L64.7 768.1L65.1 769.5L65.5 769.7L66.4 771.1L66.7 771L67.5 769.7L68 769.4L68.2 768.9L68.7 765.1L69.7 753.3L70 751.6L70.2 751.7L70.5 753.6L71.5 765.4L72.2 769.5L72.7 769.7L73.3 770.9L73.6 771.1L74.6 769.7L75.1 769.4L75.3 768.8L75.8 765L76.8 753.2L77.1 751.6L77.3 751.7L77.6 753.6L78.9 768.2L79.3 769.5L79.8 769.7L80.6 771.1L80.9 771L81.6 769.9L82.2 769.4L82.6 767.9L83.7 754.7L84.2 751.6L84.4 751.7L84.7 753.7L86 768.3L86.4 769.5L86.9 769.7L87.5 770.9L87.8 771.1L88.8 769.6L89.2 769.6L89.5 768.8L90 764.8L90.8 754.6L91.3 751.6L91.5 751.8L91.8 753.8L93.1 768.3L93.5 769.5L94 769.7L94.6 770.9L94.9 771.1L95.8 769.8L96.3 769.6L96.6 768.7L97.1 764.7L97.9 754.5L98.4 751.6L98.6 751.8L98.9 753.9L100.2 768.4L100.6 769.5L101.1 769.7L101.7 770.9L102 771.1L102.9 769.8L103.4 769.6L103.7 768.7L105 754.4L105.5 751.6L106 754L107.3 768.4L107.7 769.6L108.2 769.8L108.8 770.9L109.1 771.1L110 769.8L110.5 769.6L110.8 768.6L112.1 754.3L112.6 751.6L113.1 754.1L114.4 768.5L114.8 769.6L115.3 769.8L115.9 771L116.3 771.1L117.1 769.8L117.6 769.6L117.9 768.6L119.2 754.2L119.7 751.6L120.2 754.2L121.5 768.6L121.9 769.6L122.4 769.8L123.2 771.1L123.5 771L124.2 769.8L124.7 769.6L125 768.5L126.3 754.1L126.8 751.6L127.3 754.3L128.6 768.6L129 769.6L129.5 769.8L130.3 771.1L130.6 770.9L131.3 769.8L131.8 769.6L132.1 768.5L133.4 754L133.9 751.6L134.4 754.4L135.7 768.7L136.1 769.6L136.6 769.8L137.4 771.1L137.7 770.9L138.4 769.7L138.9 769.5L139.2 768.4L140.5 753.9L141 751.6L141.5 754.5L142.3 764.7L142.8 768.7L143.2 769.6L143.7 769.8L144.5 771.1L144.8 770.9L145.5 769.7L146 769.5L146.3 768.3L147.6 753.8L148 751.8L148.1 751.6L148.6 754.6L149.4 764.8L149.9 768.7L150.3 769.6L150.6 769.6L151.6 771.1L151.9 770.9L152.6 769.7L153.1 769.5L153.4 768.3L154.7 753.7L155.1 751.7L155.2 751.6L155.7 754.7L156.9 767.8L157.2 769.4L157.9 769.9L158.5 771L158.9 771.1L159.7 769.7L160.2 769.5L160.5 768.2L161.8 753.7L162.2 751.7L162.3 751.6L162.8 754.8L164 767.9L164.3 769.4L164.8 769.7L165.6 771L166 771.1L166.8 769.7L167.3 769.5L167.6 768.2L168.9 753.6L169.3 751.7L169.4 751.6L169.9 754.9L170.9 766.7L171.4 769.4L171.9 769.7L172.9 771.1L173.2 770.9L173.9 769.7L174.4 769.5L174.5 769L175 765.3L176 753.5L176.4 751.7L176.5 751.7L177 755L178.2 768L178.5 769.4L179 769.7L179.8 771.1L180.2 771.1L181 769.7L181.5 769.4L181.8 768.1L183 755L183.5 751.7L183.6 751.7L184 753.5L185.3 768.1L185.6 769.5L186.1 769.7L186.8 770.9L187.1 771.1L188.1 769.7L188.6 769.4L188.9 768L190.1 754.9L190.6 751.6L190.7 751.7L191.1 753.6L192.1 765.4L192.6 769L192.7 769.5L193.2 769.7L193.5 770.3L194 770.5L194.4 770.2L195.2 768.3L195.5 768.2L196.8 772.3L199.7 798.3L200 800.3L200.3 801L200.6 800.4L201.3 798.1L201.6 797.6L202 797.9L202.8 799.3L203.1 799.4L204.4 798.5L205.8 799L207.2 798.7L208.6 798.9L258.4 798.8" fill="none" stroke="#ff4258" stroke-width="1.1" stroke-opacity="0.65" stroke-linejoin="round" clip-path="url(#cl4)"/>
<path d="M38.3 798.8L40.4 772.8L43.3 745.7L43.4 745.2L45.6 768.2L48.2 788.5L50.7 761.4L52.7 744.9L54.2 752.4L55.8 758.6L58.9 772.4L59.1 772.3L60.6 772.3L60.9 771.6L62.4 755.3L62.9 752.6L63.1 752.6L63.2 753.1L63.6 755.4L64.7 769.2L65.2 772.2L67.7 772.3L68 771.6L69.5 755.2L70 752.6L70.2 752.6L70.3 753.2L70.7 755.5L71.7 767.6L72.2 771.7L72.5 772.3L74.8 772.3L75 772.1L75.5 769L76.6 755.2L77.1 752.6L77.4 753.2L77.8 755.6L78.8 767.7L79.3 771.7L79.6 772.3L81.9 772.3L82.4 770.4L83.7 755.1L84.2 752.6L84.5 753.2L84.9 755.7L86.2 770.9L86.4 771.8L86.7 772.3L89 772.3L89.3 771.4L90.8 755L91.3 752.6L91.6 753.3L92 755.8L93 767.9L93.5 771.8L93.8 772.3L96.1 772.3L96.3 772.1L96.8 768.7L97.9 754.9L98.4 752.6L98.7 753.3L99.1 755.9L100.1 768L100.6 771.9L100.9 772.3L103.2 772.3L103.7 770.1L104.9 756.4L105.2 753.6L105.5 752.6L106 754.5L107.2 768.2L107.7 771.9L107.8 772.3L110.3 772.3L110.6 771.2L111 768.5L112.1 754.7L112.6 752.6L113.1 754.6L114.3 768.3L114.8 771.9L114.9 772.3L117.4 772.3L117.7 771.2L118.1 768.4L119.2 754.7L119.7 752.6L120.2 754.7L121.4 768.4L121.7 771.2L122 772.3L124.5 772.3L124.7 771.9L125.2 768.3L126.3 754.6L126.8 752.6L127.3 754.7L128.5 768.5L128.8 771.2L129.1 772.3L131.6 772.3L131.8 771.9L132.3 768.2L133.4 754.5L133.9 752.6L134.3 753.6L134.6 756.4L135.7 770.1L136.2 772.3L138.5 772.3L138.9 771.9L139.4 768.1L140.4 755.9L140.7 753.4L141 752.6L141.4 753.7L141.7 756.5L142.8 770.2L143.3 772.3L145.6 772.3L146 771.8L146.5 768L147.5 755.8L147.8 753.3L148.1 752.6L148.5 753.7L148.8 756.6L149.9 770.3L150.4 772.3L152.7 772.3L153.1 771.8L153.6 767.8L154.6 755.7L154.9 753.3L155.2 752.6L155.7 755.1L157 770.3L157.5 772.3L159.9 772.3L160.2 771.7L160.7 767.7L161.7 755.6L162 753.2L162.3 752.6L162.8 755.1L164.1 770.4L164.6 772.3L167 772.3L167.3 771.7L167.8 767.6L168.8 755.5L169.1 753.2L169.3 752.6L169.4 752.6L169.9 755.2L171.1 769L171.6 772.1L171.7 772.3L174.1 772.3L174.4 771.6L175.9 755.4L176.2 753.1L176.4 752.6L176.5 752.6L177 755.3L178.5 771.6L178.8 772.3L181.3 772.2L181.8 769.2L183 755.3L183.5 752.6L183.6 752.6L183.8 753.1L184.1 755.4L185.6 771.6L185.9 772.3L188.3 772.3L188.6 771.6L188.9 769.1L190.2 753.9L190.6 752.6L190.7 752.6L191.2 755.5L192.2 767.6L192.7 771.7L192.9 772.2L193.5 772.3L195.7 769.8L196.8 772.3L199.8 798.8" fill="none" stroke="#4a44ff" stroke-width="1.1" stroke-opacity="0.72" stroke-linejoin="round" clip-path="url(#cl4)"/>
<path d="M38.3 721.4V837.5H258.5" stroke="#9a9a9a" stroke-width="1" fill="none"/>
<path d="M38.3 837.5h-2.5M38.3 798.8h-2.5M38.3 760.1h-2.5M38.3 721.4h-2.5M38.3 837.5v2.5M82.3 837.5v2.5M126.4 837.5v2.5M170.4 837.5v2.5M214.5 837.5v2.5M258.5 837.5v2.5" stroke="#777" stroke-width="1" fill="none"/>
<text x="32.1" y="841.4" text-anchor="end" font-family='Liberation Sans' font-size="10.3" fill="#222">-2</text>
<text x="32.1" y="802.7" text-anchor="end" font-family='Liberation Sans' font-size="10.3" fill="#222">0</text>
<text x="32.1" y="764.0" text-anchor="end" font-family='Liberation Sans' font-size="10.3" fill="#222">2</text>
<text x="32.1" y="725.3" text-anchor="end" font-family='Liberation Sans' font-size="10.3" fill="#222">4</text>
<text x="38.3" y="854.0" text-anchor="middle" font-family='Liberation Sans' font-size="10.3" fill="#222">0</text>
<text x="82.3" y="854.0" text-anchor="middle" font-family='Liberation Sans' font-size="10.3" fill="#222">2</text>
<text x="126.4" y="854.0" text-anchor="middle" font-family='Liberation Sans' font-size="10.3" fill="#222">4</text>
<text x="170.4" y="854.0" text-anchor="middle" font-family='Liberation Sans' font-size="10.3" fill="#222">6</text>
<text x="214.5" y="854.0" text-anchor="middle" font-family='Liberation Sans' font-size="10.3" fill="#222">8</text>
<text x="258.5" y="854.0" text-anchor="middle" font-family='Liberation Sans' font-size="10.3" fill="#222">10</text>
<text x="148.4" y="867.1" text-anchor="middle" font-family='Liberation Serif' font-size="11.8" fill="#2e2e2e" textLength="48.2" lengthAdjust="spacingAndGlyphs">Time - [ s ]</text>
<text transform="translate(14.7 779.9) rotate(-90)" text-anchor="middle" font-family='Liberation Serif' font-size="11.8" fill="#2e2e2e" textLength="103.2" lengthAdjust="spacingAndGlyphs">Displacement - [ mm ]</text>
<text x="148.4" y="714.1" text-anchor="middle" font-family='Liberation Serif' font-size="11" font-weight="bold" fill="#111" textLength="54.5" lengthAdjust="spacingAndGlyphs">(i) Bridge 5</text>
<rect x="44.4" y="817.4" width="129.6" height="13.7" fill="#fff" stroke="#8a8a8a" stroke-width="1"/>
<path d="M47.0 824.1h23.2" stroke="#ff5468" stroke-opacity="0.85" stroke-width="1"/>
<path d="M112.9 824.1h23" stroke="#6b5cff" stroke-opacity="0.8" stroke-width="1"/>
<text x="71.7" y="827.5" font-family="'Liberation Sans'" font-size="9.6" fill="#111" textLength="36" lengthAdjust="spacingAndGlyphs">Dynamic</text>
<text x="136.7" y="827.5" font-family="'Liberation Sans'" font-size="9.6" fill="#111" textLength="34.6" lengthAdjust="spacingAndGlyphs">Q-Static</text>
<path d="M361.4 721.8V834.4M384.1 721.8V834.4M400.2 721.8V834.4M412.8 721.8V834.4M423.0 721.8V834.4M431.6 721.8V834.4M439.1 721.8V834.4M445.7 721.8V834.4M490.5 721.8V834.4M513.3 721.8V834.4M529.4 721.8V834.4" stroke="#f4f4f4" stroke-width="1" fill="none"/>
<path d="M451.6 721.8V834.4M322.5 811.9H541.9M322.5 789.4H541.9M322.5 766.8H541.9M322.5 744.3H541.9" stroke="#efefef" stroke-width="1" fill="none"/>
<path d="M386.3 721.8V834.4M425.2 721.8V834.4M447.9 721.8V834.4M464.1 721.8V834.4M476.6 721.8V834.4M486.8 721.8V834.4M495.4 721.8V834.4M502.9 721.8V834.4M509.5 721.8V834.4M515.5 721.8V834.4" stroke="#9c9c9c" stroke-width="1" fill="none"/>
<path d="M322.5 823L325.7 826.4L327.3 827.7L329.1 828.7L331 829.5L333.1 829.8L334.6 829.8L335.9 829.3L337.7 828L339.7 826L345.6 817.9L347.6 815.3L356.7 806.1L359.1 803.9L361.2 802.3L363.1 801.3L364.9 800.8L366.3 800.7L367.5 801L368.9 801.7L370.4 802.7L375.3 807.3L377.9 812L378.9 813.3L379.7 813.7L380.5 813.1L381.4 811.8L382.2 809.6L382.9 804L384.4 784.8L385.9 749.5L386.2 745.3L386.4 743.8L386.7 745.6L387.1 754.1L388.5 803.1L389.2 819.4L390 828L390.4 829.4L391.2 830.3L392.3 830.7L393.6 830.6L397.4 828.2L398.9 827.8L399.7 828.1L400.7 828.6L404.7 832.4L406.5 833.3L417.2 833.5L419.8 833.2L421.2 832.8L421.6 832.3L422 831.2L422.5 827.9L423.8 810.5L424.2 807.4L424.6 809.4L425.5 824.2L426.1 829.8L426.8 832.4L427.3 833L428.2 833.3L431.3 833.6L438.3 833.7L443.8 833.7L445.6 833.3L446 832.8L446.3 831.7L447.4 822.1L447.6 823.3L448.6 832.3L449 833.3L450 833.6L451.9 833.7L453.4 833.4L454.6 832.9L456.8 831.4L457.9 831.1L459 831.4L461.2 832.7L462.3 832.8L463.3 832.2L465.2 830.1L466 829.7L467.9 830.7L469.7 831.2L472.1 833.3L472.7 833.7L473.7 833.8L475.8 833.7L476.6 831.7L477.1 833.4L477.4 833.8L477.8 833.8L485.9 833.9L486.3 833.7L486.7 833.1L487.6 833.9L494.6 833.9L495 833.6L495.4 831.8L495.9 833.6L496.2 833.9L502 833.9L502.4 833.7L502.5 833.4L502.9 829.9L503.3 833.4L503.5 833.7L503.9 833.9L509 833.9L509.2 833.7L509.5 833.1L510.1 833.9L514.9 833.9L515.1 833.5L515.4 831.7L515.8 833.7L516.2 833.9L520.4 833.9L520.8 832.6L521 833.6L521.5 833.9L525.3 833.9L525.7 833.1L526 833.9L526.3 833.9L529.8 833.9L530.1 833.4L530.6 833.9L533.9 833.9L534.4 833.5L534.8 833.9L541.9 833.9" fill="none" stroke="#ff4258" stroke-width="1.0" stroke-opacity="0.65" stroke-linejoin="round" clip-path="url(#cr4)"/>
<path d="M322.5 823L325.7 826.4L327.3 827.7L329.1 828.7L331 829.5L333.1 829.8L334.6 829.8L335.9 829.3L337.7 828L339.7 826L345.6 817.9L347.6 815.3L356.7 806.1L359.1 803.9L361.2 802.3L363.1 801.3L364.9 800.8L366.1 800.7L367.4 800.9L368.7 801.6L370.2 802.6L375.3 807.3L377.9 811.9L378.9 813.3L379.7 813.7L380.7 813L381.8 810.8L382.5 808.1L384 790.8L384.7 779L385.9 748.5L386.2 744.2L386.4 742.7L386.7 744.4L387.1 753.1L388.5 802.7L389.2 819.2L390 827.9L390.4 829.3L391.2 830.3L392.3 830.6L393.6 830.6L397.4 828.2L398.9 827.8L399.7 828.1L400.7 828.6L404.7 832.4L406.5 833.3L417.2 833.5L419.8 833.2L421.2 832.7L421.6 832.2L422 831.1L422.5 827.5L423.8 809.1L424.2 805.8L424.6 808L425.5 823.6L426.1 829.6L426.8 832.3L427.3 832.9L428.2 833.2L431 833.6L437.1 833.7L443.5 833.7L445.6 833.4L446 832.8L446.3 831.9L447.4 823.1L447.6 824.3L448.6 832.5L449 833.3L450.1 833.7L475.2 833.9L475.9 833.8L476.6 833.3L477.3 833.8L478.2 833.9L485.9 833.9L486.7 833.7L487.6 833.9L494.6 833.9L495 833.9L495.4 833.5L496.2 833.9L502.1 833.9L502.5 833.9L502.9 833.5L503.3 833.9L503.9 833.9L541.9 833.9" fill="none" stroke="#4a44ff" stroke-width="1.0" stroke-opacity="0.72" stroke-linejoin="round" clip-path="url(#cr4)"/>
<path d="M322.5 721.8V834.4H541.9" stroke="#9a9a9a" stroke-width="1" fill="none"/>
<path d="M322.5 834.4h-2.5M322.5 811.9h-2.5M322.5 789.4h-2.5M322.5 766.8h-2.5M322.5 744.3h-2.5M322.5 834.4v2.5M451.6 834.4v2.5" stroke="#777" stroke-width="1" fill="none"/>
<text x="316.3" y="838.3" text-anchor="end" font-family='Liberation Sans' font-size="10.3" fill="#222">0</text>
<text x="316.3" y="815.8" text-anchor="end" font-family='Liberation Sans' font-size="10.3" fill="#222">0.1</text>
<text x="316.3" y="793.3" text-anchor="end" font-family='Liberation Sans' font-size="10.3" fill="#222">0.2</text>
<text x="316.3" y="770.7" text-anchor="end" font-family='Liberation Sans' font-size="10.3" fill="#222">0.3</text>
<text x="316.3" y="748.2" text-anchor="end" font-family='Liberation Sans' font-size="10.3" fill="#222">0.4</text>
<text x="325.5" y="853.3" text-anchor="end" font-family='Liberation Sans' font-size="10.3" fill="#222">10</text>
<text x="326.3" y="848.1" font-family='Liberation Sans' font-size="8.4" fill="#222">0</text>
<text x="454.6" y="853.3" text-anchor="end" font-family='Liberation Sans' font-size="10.3" fill="#222">10</text>
<text x="455.4" y="848.1" font-family='Liberation Sans' font-size="8.4" fill="#222">1</text>
<text x="432.2" y="866.5" text-anchor="middle" font-family='Liberation Serif' font-size="11.8" fill="#2e2e2e" textLength="83" lengthAdjust="spacingAndGlyphs">Frequency - [ Hz ]</text>
<text transform="translate(295.2 778.1) rotate(-90)" text-anchor="middle" font-family='Liberation Serif' font-size="11.8" fill="#2e2e2e" textLength="102.5" lengthAdjust="spacingAndGlyphs">Displacement - [ mm ]</text>
<text x="432.2" y="714.5" text-anchor="middle" font-family='Liberation Serif' font-size="11" font-weight="bold" fill="#111" textLength="80" lengthAdjust="spacingAndGlyphs">(j) Bridge 5: FFT</text>
<rect x="405.4" y="728.8" width="129.6" height="13.7" fill="#fff" stroke="#8a8a8a" stroke-width="1"/>
<path d="M408.0 735.5h23.2" stroke="#ff5468" stroke-opacity="0.85" stroke-width="1"/>
<path d="M473.9 735.5h23" stroke="#6b5cff" stroke-opacity="0.8" stroke-width="1"/>
<text x="432.7" y="738.9" font-family="'Liberation Sans'" font-size="9.6" fill="#111" textLength="36" lengthAdjust="spacingAndGlyphs">Dynamic</text>
<text x="497.7" y="738.9" font-family="'Liberation Sans'" font-size="9.6" fill="#111" textLength="34.6" lengthAdjust="spacingAndGlyphs">Q-Static</text>
<rect x="349.5" y="744.2" width="35.8" height="20.2" rx="0.8" fill="#fcfcfc" stroke="#d4d4d4" stroke-width="1"/>
<text x="352.5" y="756.5" font-family="'Liberation Sans'" font-size="9.3" fill="#3a3a3a">X</text>
<text x="360.9" y="756.5" font-family="'Liberation Serif'" font-size="9.7" font-weight="bold" fill="#1696ee" textLength="19.8" lengthAdjust="spacingAndGlyphs">3.135</text>
<circle cx="386.3" cy="743.2" r="1.7" fill="#000"/>
<rect x="424.5" y="784.6" width="35.8" height="20.2" rx="0.8" fill="#fcfcfc" stroke="#d4d4d4" stroke-width="1"/>
<text x="427.5" y="796.9" font-family="'Liberation Sans'" font-size="9.3" fill="#3a3a3a">X</text>
<text x="435.9" y="796.9" font-family="'Liberation Serif'" font-size="9.7" font-weight="bold" fill="#1696ee" textLength="19.8" lengthAdjust="spacingAndGlyphs">6.133</text>
<circle cx="423.5" cy="805.8" r="1.7" fill="#000"/>
<rect x="447.9" y="800.9" width="35.8" height="20.2" rx="0.8" fill="#fcfcfc" stroke="#d4d4d4" stroke-width="1"/>
<text x="450.9" y="813.2" font-family="'Liberation Sans'" font-size="9.3" fill="#3a3a3a">X</text>
<text x="459.3" y="813.2" font-family="'Liberation Serif'" font-size="9.7" font-weight="bold" fill="#1696ee" textLength="19.8" lengthAdjust="spacingAndGlyphs">9.268</text>
<circle cx="446.9" cy="822.1" r="1.7" fill="#000"/>
<path d="M82.4 897.8V1013.4M126.4 897.8V1013.4M170.5 897.8V1013.4M214.5 897.8V1013.4M258.5 897.8V1013.4M38.4 994.1H258.5M38.4 974.9H258.5M38.4 955.6H258.5M38.4 936.3H258.5M38.4 917.1H258.5M38.4 897.8H258.5" stroke="#efefef" stroke-width="1" fill="none"/>
<path d="M38.4 994.1L40.5 983.5L43 965.7L46.3 949.8L49.5 941L51.6 933.4L52.9 934.4L54.2 930.6L55.6 932.5L57.4 927.8L58.9 931.5L60.4 924.1L61.7 929.3L62.8 924.8L64.8 934.4L65.3 935.1L66 934.3L66.3 934.2L67.3 935.7L68.3 935.9L68.6 939.4L69.1 934.6L69.6 933.6L69.8 933.5L70.1 933.8L70.9 935.8L71.9 935.9L72.2 935.5L73.2 932.2L73.6 932.5L74.4 935.6L74.6 935.8L75.4 935.9L75.7 939.3L76.2 933.2L76.7 931.1L76.9 931L77 931.2L78 935.7L79 935.9L79.3 935.2L80 931.5L80.3 930.6L80.7 931.2L81.5 935.6L81.6 935.8L82.5 935.9L82.8 939.4L83.3 932.8L83.8 930.6L84 930.6L84.1 930.9L85.1 935.8L86.1 935.9L86.4 935.1L87.3 930.7L87.4 930.4L87.6 930.6L88.6 935.6L88.7 935.8L89.6 935.9L89.9 939.5L90.4 932.6L90.9 930.4L91.1 930.4L91.2 930.8L92.2 935.8L93.2 935.9L93.5 935.1L94.2 931.1L94.5 930.3L94.9 931L95.7 935.6L95.8 935.8L96.7 936L97 939.5L97.5 932.5L98 930.3L98.2 930.3L98.3 930.7L99.3 935.8L100.3 935.9L100.6 935L101.3 931L101.6 930.1L102 931L102.8 935.6L102.9 935.9L103.6 935.9L103.8 936.1L104.1 939.6L104.4 933.8L105.1 930.1L105.3 930.1L105.4 930.6L106.2 935.4L106.6 935.9L107.4 935.8L107.6 935.6L108.4 930.8L108.7 930L108.9 930.3L109.9 935.6L110 935.9L110.7 935.9L110.9 936.2L111.2 939.6L111.5 933.6L112.2 930L112.5 930.5L113.3 935.4L113.5 935.8L114.3 935.9L114.7 935.6L115.5 930.7L115.8 930L116.2 930.9L117 935.7L117.1 935.9L117.8 935.9L118 936.3L118.3 939.4L118.6 933.4L119.3 930L119.6 930.5L120.4 935.4L120.6 935.8L121.4 935.9L121.8 935.5L122.6 930.6L122.9 929.9L123.2 930.9L124.1 935.7L124.2 935.9L124.9 935.9L125.1 936.4L125.4 939.2L125.7 933.2L126.4 929.9L126.7 930.5L127.5 935.4L127.7 935.8L128.5 935.9L128.9 935.5L129.7 930.6L130 929.9L130.3 930.9L131 935.1L131.3 935.9L132 935.9L132.5 939.1L132.8 933.1L133.5 929.9L133.8 930.6L134.6 935.5L135 935.9L135.8 935.8L136 935.5L136.8 930.5L137.1 929.9L137.4 931L138.1 935.2L138.4 935.9L139.1 935.9L139.6 938.9L139.9 933.1L140.6 929.9L140.9 930.6L141.7 935.5L142.1 935.9L142.9 935.8L143.1 935.4L143.9 930.5L144.2 930L145.2 935.2L145.5 935.9L146.2 935.9L146.5 938.6L146.7 938.7L147 933L147.3 930.9L147.7 930L148 930.7L148.8 935.5L149.2 935.9L150 935.8L150.2 935.4L151 930.6L151.3 930.1L152.5 935.8L153.3 935.9L153.6 938.7L153.8 938.6L154.1 933L154.4 930.9L154.8 930.1L155.1 930.9L155.8 934.9L156.1 935.8L157.1 935.8L158.1 930.6L158.2 930.2L158.4 930.2L159.4 935.3L159.6 935.8L160.4 935.9L160.7 938.8L160.9 938.4L161.2 933L161.5 931L161.9 930.2L162.2 931L162.9 935L163.2 935.9L164.2 935.8L165.2 930.7L165.3 930.3L165.5 930.3L166.5 935.4L166.7 935.8L167.5 935.9L167.8 938.9L168.3 933L168.6 931.1L169 930.3L169.3 931.2L170 935.1L170.3 935.9L171.3 935.8L172.3 930.8L172.4 930.4L172.6 930.5L173.6 935.4L173.8 935.8L174.6 935.9L174.9 939L175.4 933L175.7 931.2L176.1 930.5L176.4 931.4L177.1 935.1L177.4 935.9L178.4 935.8L179.4 930.9L179.5 930.6L179.7 930.7L180.7 935.5L180.9 935.8L181.7 935.9L182 939.1L182.5 933L182.8 931.3L183.2 930.7L183.5 931.5L184.2 935.2L184.5 935.9L185.5 935.7L186.5 931.1L186.6 930.8L186.8 930.9L187.8 935.5L188 935.8L188.8 935.9L189.1 939.2L189.6 933.1L190.1 931L190.3 930.9L190.4 931.1L191.4 935.7L192.4 935.9L192.7 935.3L193.4 931.8L193.7 931L194.1 931.5L194.9 935.5L195.7 936.4L195.9 936.2L196.2 937.3L196.5 935.4L197 934L197.2 933.9L197.4 934.1L197.5 934.6L199.5 946.8L199.8 948.1L200.5 949.4L200.8 950.7L202.2 960.9L203.3 966.7L204.3 970.1L206.1 980.6L209.7 993.7L209.9 993.7L210.4 990.9L210.7 990.4L210.9 990.6L212.1 996.9L212.4 997.6L212.9 996.5L213.7 991.8L214 990.9L214.2 990.8L214.5 991.6L215.5 996.7L215.9 997.3L216.2 996.7L217.2 992L217.5 991.2L217.7 991.2L218 992L218.8 995.9L219.3 996.9L219.7 996.4L220.5 992.7L221 991.5L221.3 991.9L222.3 995.8L222.8 996.6L223.1 996L224.1 992.3L224.4 991.8L224.9 992.6L225.8 995.7L226.1 996.3L226.3 996.3L226.6 995.8L227.6 992.4L227.9 992.1L228.2 992.4L229.2 995.6L229.6 996.1L229.9 995.8L230.9 992.9L231.4 992.3L231.9 993.1L232.7 995.5L233 995.8L233.5 995.3L234.3 993L234.8 992.5L235.2 992.9L236.2 995.4L236.5 995.7L236.8 995.4L237.8 993.1L238.1 992.7L238.6 993.1L239.5 995L240 995.5L240.3 995.2L241.1 993.5L241.6 992.9L241.9 993L242.9 994.9L243.4 995.3L243.8 995.1L244.7 993.2L245.1 993L245.4 993.2L246.7 995.2L247.2 994.9L248 993.5L248.5 993.1L248.9 993.3L249.9 994.8L250.2 995.1L250.7 994.8L251.8 993.3L252.3 993.4L253.2 994.6L253.7 995L254.2 994.7L255.3 993.4L255.8 993.5L256.6 994.6L257.1 994.9L257.6 994.6L258.4 993.6" fill="none" stroke="#ff4258" stroke-width="1.1" stroke-opacity="0.65" stroke-linejoin="round" clip-path="url(#cl5)"/>
<path d="M38.4 994.1L40.5 983.5L43 966.2L46.3 950.8L49.5 942.9L52.1 935.5L57.1 934.4L61.5 928.6L65.3 936.5L65.5 936L68.1 936L68.6 939.2L69.1 936L75.2 936L75.7 939.2L76.2 936L82.3 936L82.8 939.3L83.3 936L89.4 936L89.9 939.4L90.4 936L96.5 936L97 939.5L97.5 936L103.6 936L104.1 939.6L104.6 936L110.7 936L111.2 939.6L111.7 936L117.8 936L118.3 939.5L118.8 936L124.9 936L125.4 939.4L125.9 936L132 936L132.5 939.3L133 936L139.1 936L139.6 939.2L140.1 936L146.2 936L146.7 939.2L147.2 936L153.3 936L153.8 939.1L154.3 936L160.4 936.1L160.7 938.8L160.9 939L161.2 936.2L161.4 936L167.3 936L167.5 936.1L167.8 938.9L168 938.9L168.3 936.2L168.5 936L174.4 936L174.6 936.2L174.9 939L175.1 938.8L175.4 936.1L181.5 936L181.7 936.3L182 939.1L182.5 936L188.6 936L189.1 939.2L189.6 936L195.2 936L198.2 939.9L201.7 958.5L206.1 980.6L209.9 994.1" fill="none" stroke="#4a44ff" stroke-width="1.1" stroke-opacity="0.72" stroke-linejoin="round" clip-path="url(#cl5)"/>
<path d="M38.4 897.8V1013.4H258.5" stroke="#9a9a9a" stroke-width="1" fill="none"/>
<path d="M38.4 1013.4h-2.5M38.4 994.1h-2.5M38.4 974.9h-2.5M38.4 955.6h-2.5M38.4 936.3h-2.5M38.4 917.1h-2.5M38.4 897.8h-2.5M38.4 1013.4v2.5M82.4 1013.4v2.5M126.4 1013.4v2.5M170.5 1013.4v2.5M214.5 1013.4v2.5M258.5 1013.4v2.5" stroke="#777" stroke-width="1" fill="none"/>
<text x="32.2" y="1017.3" text-anchor="end" font-family='Liberation Sans' font-size="10.3" fill="#222">-2</text>
<text x="32.2" y="998.0" text-anchor="end" font-family='Liberation Sans' font-size="10.3" fill="#222">0</text>
<text x="32.2" y="978.8" text-anchor="end" font-family='Liberation Sans' font-size="10.3" fill="#222">2</text>
<text x="32.2" y="959.5" text-anchor="end" font-family='Liberation Sans' font-size="10.3" fill="#222">4</text>
<text x="32.2" y="940.2" text-anchor="end" font-family='Liberation Sans' font-size="10.3" fill="#222">6</text>
<text x="32.2" y="921.0" text-anchor="end" font-family='Liberation Sans' font-size="10.3" fill="#222">8</text>
<text x="32.2" y="901.7" text-anchor="end" font-family='Liberation Sans' font-size="10.3" fill="#222">10</text>
<text x="38.4" y="1029.9" text-anchor="middle" font-family='Liberation Sans' font-size="10.3" fill="#222">0</text>
<text x="82.4" y="1029.9" text-anchor="middle" font-family='Liberation Sans' font-size="10.3" fill="#222">2</text>
<text x="126.4" y="1029.9" text-anchor="middle" font-family='Liberation Sans' font-size="10.3" fill="#222">4</text>
<text x="170.5" y="1029.9" text-anchor="middle" font-family='Liberation Sans' font-size="10.3" fill="#222">6</text>
<text x="214.5" y="1029.9" text-anchor="middle" font-family='Liberation Sans' font-size="10.3" fill="#222">8</text>
<text x="258.5" y="1029.9" text-anchor="middle" font-family='Liberation Sans' font-size="10.3" fill="#222">10</text>
<text x="148.4" y="1043.0" text-anchor="middle" font-family='Liberation Serif' font-size="11.8" fill="#2e2e2e" textLength="48.2" lengthAdjust="spacingAndGlyphs">Time - [ s ]</text>
<text transform="translate(12.7 956.0) rotate(-90)" text-anchor="middle" font-family='Liberation Serif' font-size="11.8" fill="#2e2e2e" textLength="103.2" lengthAdjust="spacingAndGlyphs">Displacement - [ mm ]</text>
<text x="148.4" y="890.5" text-anchor="middle" font-family='Liberation Serif' font-size="11" font-weight="bold" fill="#111" textLength="54.5" lengthAdjust="spacingAndGlyphs">(k) Bridge 6</text>
<rect x="44.5" y="993.3" width="129.6" height="13.7" fill="#fff" stroke="#8a8a8a" stroke-width="1"/>
<path d="M47.1 1000.0h23.2" stroke="#ff5468" stroke-opacity="0.85" stroke-width="1"/>
<path d="M113.0 1000.0h23" stroke="#6b5cff" stroke-opacity="0.8" stroke-width="1"/>
<text x="71.8" y="1003.4" font-family="'Liberation Sans'" font-size="9.6" fill="#111" textLength="36" lengthAdjust="spacingAndGlyphs">Dynamic</text>
<text x="136.8" y="1003.4" font-family="'Liberation Sans'" font-size="9.6" fill="#111" textLength="34.6" lengthAdjust="spacingAndGlyphs">Q-Static</text>
<path d="M361.0 897.7V1010.9M383.8 897.7V1010.9M400.0 897.7V1010.9M412.5 897.7V1010.9M422.8 897.7V1010.9M431.4 897.7V1010.9M438.9 897.7V1010.9M445.6 897.7V1010.9M490.4 897.7V1010.9M513.2 897.7V1010.9M529.4 897.7V1010.9" stroke="#f4f4f4" stroke-width="1" fill="none"/>
<path d="M451.5 897.7V1010.9M322.1 982.6H541.9M322.1 954.3H541.9M322.1 926.0H541.9M322.1 897.7H541.9" stroke="#efefef" stroke-width="1" fill="none"/>
<path d="M386.0 897.7V1010.9M425.0 897.7V1010.9M447.8 897.7V1010.9M463.9 897.7V1010.9M476.5 897.7V1010.9M486.7 897.7V1010.9M495.4 897.7V1010.9M502.9 897.7V1010.9M509.5 897.7V1010.9M515.4 897.7V1010.9" stroke="#9c9c9c" stroke-width="1" fill="none"/>
<path d="M322.1 950L327.5 962.1L329.8 966.6L332 970.3L335.4 974.8L342.4 981.9L345.5 985.5L347.9 989.3L354.5 1000.8L358.7 1007.1L359.5 1008L360.3 1008.5L361 1008.6L361.8 1008L364.7 1004.2L368.1 1000.9L369.5 999.9L370.8 999.5L372 999.7L373.2 1000.1L376.8 1002.3L377.8 1003.1L380.2 1006L380.9 1006.5L381.5 1006.5L382.2 1006.3L382.9 1005.4L384.5 1000.5L384.9 999.7L385.2 999.6L385.7 1000.5L387 1005.1L387.7 1007L388.5 1008.1L389.7 1008.5L394.3 1009L400.3 1009.1L402 1008.8L407.1 1007.4L408.4 1007.4L412.1 1007.7L414.6 1007.3L415.2 1007L415.6 1006.4L416.1 1004.5L416.7 999.9L417.5 989.6L417.9 987.2L418.3 989L419.1 999.2L419.7 1003.8L420 1004.9L420.4 1005.7L420.8 1005.8L421.3 1005.4L421.9 1004.1L422.2 1002.4L422.7 992.5L423.8 936.3L424.1 930.1L424.4 935L425.6 996.4L426.2 1003.7L426.6 1005.2L427.4 1006.2L428.5 1006.7L431 1007.3L434 1008.7L435.4 1009.1L438.4 1009.4L442.5 1009.4L444.3 1009.2L445.3 1008.8L445.7 1007.6L446 1005L446.9 984.1L448 1007.1L448.4 1008.7L449.4 1009.3L451.3 1009.6L455.4 1009.7L475.2 1009.9L475.5 1009.8L475.8 1009.4L476.5 1005.2L477.2 1009.5L477.4 1009.9L478.1 1010L485.8 1010.1L486.2 1009.9L486.6 1009.2L487.5 1010.1L494.5 1010.1L494.9 1009.9L495.3 1008.2L495.9 1009.9L496.1 1010.1L502 1010.2L502.4 1009.9L502.9 1008.1L503.3 1009.9L503.8 1010.2L508.9 1010.2L509.2 1010.1L509.5 1009.5L509.9 1010.2L510.4 1010.3L541.9 1010.3" fill="none" stroke="#ff4258" stroke-width="1.0" stroke-opacity="0.65" stroke-linejoin="round" clip-path="url(#cr5)"/>
<path d="M322.1 948.4L327.3 959.6L331.7 967.3L335.3 972.1L342.7 979.7L345.9 983.5L348.6 987.7L355.9 999.8L358.8 1005.2L359.6 1006.3L360.5 1006.9L361.1 1006.8L361.8 1006.3L364.7 1002.7L367.7 1000.1L369.2 999.1L370.6 998.7L372.3 998.9L374.3 999.9L377.4 1001.8L380.5 1005L381.2 1005.3L381.9 1005.2L382.4 1004.7L383 1003.6L384.5 997.9L384.9 996.9L385.2 996.8L385.7 997.9L387.1 1004.3L387.9 1006.7L388.5 1007.4L389 1007.7L391.7 1008.2L411.2 1009.4L418.3 1009.5L421.2 1009.2L421.9 1008.7L422.4 1007.4L423.7 999.3L424.1 997.9L424.5 999.1L425.3 1005.3L425.9 1008L426.6 1009.1L427.9 1009.5L439.9 1009.8L445.1 1009.6L445.7 1009L446 1008L446.6 1002.8L446.9 1001.8L448 1008.8L448.4 1009.6L449.5 1009.8L475.2 1010.1L475.8 1010L476.5 1008.6L477.2 1010L478.1 1010.1L485.8 1010.2L486.2 1010L486.6 1009.2L487.5 1010.2L494.5 1010.2L494.9 1010.1L495.3 1009.2L495.9 1010.1L496.1 1010.2L502 1010.3L502.4 1010.1L502.9 1009.2L503.3 1010.1L503.8 1010.3L541.9 1010.3" fill="none" stroke="#4a44ff" stroke-width="1.0" stroke-opacity="0.72" stroke-linejoin="round" clip-path="url(#cr5)"/>
<path d="M322.1 897.7V1010.9H541.9" stroke="#9a9a9a" stroke-width="1" fill="none"/>
<path d="M322.1 1010.9h-2.5M322.1 982.6h-2.5M322.1 954.3h-2.5M322.1 926.0h-2.5M322.1 897.7h-2.5M322.1 1010.9v2.5M451.5 1010.9v2.5" stroke="#777" stroke-width="1" fill="none"/>
<text x="315.9" y="1014.8" text-anchor="end" font-family='Liberation Sans' font-size="10.3" fill="#222">0</text>
<text x="315.9" y="986.5" text-anchor="end" font-family='Liberation Sans' font-size="10.3" fill="#222">0.1</text>
<text x="315.9" y="958.2" text-anchor="end" font-family='Liberation Sans' font-size="10.3" fill="#222">0.2</text>
<text x="315.9" y="929.9" text-anchor="end" font-family='Liberation Sans' font-size="10.3" fill="#222">0.3</text>
<text x="315.9" y="901.6" text-anchor="end" font-family='Liberation Sans' font-size="10.3" fill="#222">0.4</text>
<text x="325.1" y="1029.8" text-anchor="end" font-family='Liberation Sans' font-size="10.3" fill="#222">10</text>
<text x="325.9" y="1024.6" font-family='Liberation Sans' font-size="8.4" fill="#222">0</text>
<text x="454.5" y="1029.8" text-anchor="end" font-family='Liberation Sans' font-size="10.3" fill="#222">10</text>
<text x="455.3" y="1024.6" font-family='Liberation Sans' font-size="8.4" fill="#222">1</text>
<text x="432.0" y="1043.0" text-anchor="middle" font-family='Liberation Serif' font-size="11.8" fill="#2e2e2e" textLength="83" lengthAdjust="spacingAndGlyphs">Frequency - [ Hz ]</text>
<text transform="translate(295.2 954.3) rotate(-90)" text-anchor="middle" font-family='Liberation Serif' font-size="11.8" fill="#2e2e2e" textLength="102.5" lengthAdjust="spacingAndGlyphs">Displacement - [ mm ]</text>
<text x="432.0" y="890.4" text-anchor="middle" font-family='Liberation Serif' font-size="11" font-weight="bold" fill="#111" textLength="80" lengthAdjust="spacingAndGlyphs">(l) Bridge 6: FFT</text>
<rect x="405.4" y="904.7" width="129.6" height="13.7" fill="#fff" stroke="#8a8a8a" stroke-width="1"/>
<path d="M408.0 911.4h23.2" stroke="#ff5468" stroke-opacity="0.85" stroke-width="1"/>
<path d="M473.9 911.4h23" stroke="#6b5cff" stroke-opacity="0.8" stroke-width="1"/>
<text x="432.7" y="914.8" font-family="'Liberation Sans'" font-size="9.6" fill="#111" textLength="36" lengthAdjust="spacingAndGlyphs">Dynamic</text>
<text x="497.7" y="914.8" font-family="'Liberation Sans'" font-size="9.6" fill="#111" textLength="34.6" lengthAdjust="spacingAndGlyphs">Q-Static</text>
<rect x="348.2" y="973.8" width="35.8" height="20.2" rx="0.8" fill="#fcfcfc" stroke="#d4d4d4" stroke-width="1"/>
<text x="351.2" y="986.1" font-family="'Liberation Sans'" font-size="9.3" fill="#3a3a3a">X</text>
<text x="359.6" y="986.1" font-family="'Liberation Serif'" font-size="9.7" font-weight="bold" fill="#1696ee" textLength="19.8" lengthAdjust="spacingAndGlyphs">3.073</text>
<circle cx="385.0" cy="995.0" r="1.7" fill="#000"/>
<rect x="380.9" y="966.4" width="35.8" height="20.2" rx="0.8" fill="#fcfcfc" stroke="#d4d4d4" stroke-width="1"/>
<text x="383.9" y="978.7" font-family="'Liberation Sans'" font-size="9.3" fill="#3a3a3a">X</text>
<text x="392.3" y="978.7" font-family="'Liberation Serif'" font-size="9.7" font-weight="bold" fill="#1696ee" textLength="19.8" lengthAdjust="spacingAndGlyphs">5.505</text>
<circle cx="417.7" cy="987.6" r="1.7" fill="#000"/>
<rect x="425.0" y="931.1" width="35.8" height="20.2" rx="0.8" fill="#fcfcfc" stroke="#d4d4d4" stroke-width="1"/>
<text x="428.0" y="943.4" font-family="'Liberation Sans'" font-size="9.3" fill="#3a3a3a">X</text>
<text x="436.4" y="943.4" font-family="'Liberation Serif'" font-size="9.7" font-weight="bold" fill="#1696ee" textLength="19.8" lengthAdjust="spacingAndGlyphs">6.145</text>
<circle cx="424.0" cy="930.1" r="1.7" fill="#000"/>
<rect x="447.4" y="962.9" width="35.8" height="20.2" rx="0.8" fill="#fcfcfc" stroke="#d4d4d4" stroke-width="1"/>
<text x="450.4" y="975.2" font-family="'Liberation Sans'" font-size="9.3" fill="#3a3a3a">X</text>
<text x="458.8" y="975.2" font-family="'Liberation Serif'" font-size="9.7" font-weight="bold" fill="#1696ee" textLength="19.8" lengthAdjust="spacingAndGlyphs">9.218</text>
<circle cx="446.4" cy="984.1" r="1.7" fill="#000"/>
<path d="M168.3 1061V1072.7" stroke="#999" stroke-width="1"/>
<text x="181" y="1073.0" font-family='Liberation Serif' font-size="14.2" fill="#333" textLength="280" lengthAdjust="spacingAndGlyphs">Wagon Pass Frequency Predicted by Equation (17)</text></svg>
</body></html>
